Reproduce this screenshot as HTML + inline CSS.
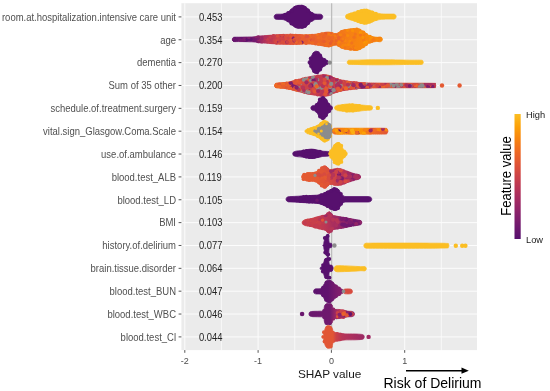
<!DOCTYPE html>
<html><head><meta charset="utf-8"><style>
html,body{margin:0;padding:0;background:#fff;}
body{width:550px;height:391px;overflow:hidden;position:relative;}
svg{position:absolute;left:0;top:0;filter:blur(0.3px);}
text{font-family:"Liberation Sans",sans-serif;}
.yl{font-size:9.5px;fill:#505050;}
.num{font-size:9.4px;fill:#222;}
.xt{font-size:9px;fill:#4D4D4D;}
</style></head><body>
<svg width="550" height="391" viewBox="0 0 550 391">
<defs>
<linearGradient id="leg" x1="0" y1="1" x2="0" y2="0"><stop offset="0.00" stop-color="#57106E"/><stop offset="0.10" stop-color="#6F196E"/><stop offset="0.20" stop-color="#87216B"/><stop offset="0.30" stop-color="#A02A63"/><stop offset="0.40" stop-color="#B73557"/><stop offset="0.50" stop-color="#CC4248"/><stop offset="0.60" stop-color="#E05536"/><stop offset="0.70" stop-color="#EE6A24"/><stop offset="0.80" stop-color="#F78410"/><stop offset="0.90" stop-color="#FCA108"/><stop offset="1.00" stop-color="#FBBE23"/></linearGradient>
<linearGradient id="g1" gradientUnits="userSpaceOnUse" x1="232.0" y1="0" x2="382.0" y2="0"><stop offset="0.000" stop-color="#6A176E"/><stop offset="0.133" stop-color="#6F196E"/><stop offset="0.173" stop-color="#8C2369"/><stop offset="0.227" stop-color="#B73557"/><stop offset="0.293" stop-color="#D04545"/><stop offset="0.387" stop-color="#DD513A"/><stop offset="0.453" stop-color="#E65D2F"/><stop offset="0.553" stop-color="#EA632A"/><stop offset="0.667" stop-color="#EF6E21"/><stop offset="0.733" stop-color="#F37819"/><stop offset="0.800" stop-color="#F78212"/><stop offset="0.867" stop-color="#F8870E"/><stop offset="1.000" stop-color="#F8890C"/></linearGradient>
<clipPath id="c2"><path d="M232.3 39.4 C232.4 39.1 232.6 38.1 233.0 37.8 C233.3 37.4 233.3 37.3 234.5 37.2 C235.7 37.1 237.4 37.2 240.0 37.2 C242.6 37.1 247.5 37.0 250.0 37.0 C252.5 36.9 253.7 36.8 255.0 36.7 C256.3 36.5 256.3 36.2 258.0 36.1 C259.7 35.9 262.7 35.8 265.0 35.7 C267.3 35.5 269.5 35.2 272.0 35.1 C274.5 34.9 277.0 34.7 280.0 34.6 C283.0 34.4 286.7 34.4 290.0 34.4 C293.3 34.4 297.5 34.5 300.0 34.6 C302.5 34.6 303.0 34.8 305.0 34.8 C307.0 34.8 309.8 34.7 312.0 34.6 C314.2 34.4 316.2 34.1 318.0 33.8 C319.8 33.5 321.5 33.0 323.0 32.8 C324.5 32.5 325.7 32.1 327.0 32.1 C328.3 32.0 329.8 32.1 331.0 32.4 C332.2 32.6 333.1 33.1 334.0 33.4 C334.9 33.6 335.7 34.0 336.5 33.8 C337.3 33.6 338.1 32.7 339.0 32.2 C339.9 31.6 340.4 30.9 341.6 30.5 C342.8 30.0 344.4 29.8 346.0 29.6 C347.6 29.3 349.2 29.0 351.0 28.8 C352.8 28.6 355.5 28.3 357.0 28.4 C358.5 28.5 359.0 28.9 360.0 29.4 C361.0 29.8 362.1 30.5 363.0 31.1 C363.9 31.6 364.8 32.2 365.5 32.8 C366.2 33.3 366.8 34.1 367.5 34.6 C368.2 35.1 369.2 35.5 370.0 35.8 C370.8 36.1 371.2 36.1 372.0 36.4 C372.8 36.6 374.1 36.9 375.0 37.1 C375.9 37.2 376.7 37.3 377.5 37.3 C378.3 37.2 379.3 36.9 380.0 37.0 C380.7 37.0 381.3 37.2 381.7 37.6 C382.1 38.0 382.3 39.1 382.4 39.4 L382.4 39.4 C382.3 39.6 382.1 40.7 381.7 41.1 C381.3 41.5 380.7 41.7 380.0 41.8 C379.3 41.8 378.3 41.5 377.5 41.5 C376.7 41.4 375.9 41.5 375.0 41.7 C374.1 41.8 372.8 42.1 372.0 42.4 C371.2 42.6 370.8 42.7 370.0 43.0 C369.2 43.3 368.2 43.7 367.5 44.2 C366.8 44.7 366.2 45.4 365.5 46.0 C364.8 46.5 363.9 47.1 363.0 47.7 C362.1 48.2 361.0 48.9 360.0 49.4 C359.0 49.8 358.5 50.3 357.0 50.4 C355.5 50.5 352.8 50.2 351.0 50.0 C349.2 49.8 347.6 49.4 346.0 49.2 C344.4 48.9 342.8 48.7 341.6 48.3 C340.4 47.8 339.9 47.1 339.0 46.6 C338.1 46.0 337.3 45.2 336.5 45.0 C335.7 44.8 334.9 45.1 334.0 45.4 C333.1 45.6 332.2 46.1 331.0 46.4 C329.8 46.6 328.3 46.7 327.0 46.7 C325.7 46.6 324.5 46.2 323.0 46.0 C321.5 45.7 319.8 45.3 318.0 45.0 C316.2 44.7 314.2 44.3 312.0 44.2 C309.8 44.0 307.0 44.0 305.0 44.0 C303.0 44.0 302.5 44.1 300.0 44.2 C297.5 44.2 293.3 44.4 290.0 44.4 C286.7 44.4 283.0 44.3 280.0 44.2 C277.0 44.0 274.5 43.8 272.0 43.7 C269.5 43.5 267.3 43.2 265.0 43.1 C262.7 42.9 259.7 42.8 258.0 42.7 C256.3 42.5 256.3 42.2 255.0 42.1 C253.7 41.9 252.5 41.8 250.0 41.8 C247.5 41.7 242.6 41.6 240.0 41.6 C237.4 41.5 235.7 41.7 234.5 41.6 C233.3 41.5 233.3 41.3 233.0 40.9 C232.6 40.6 232.4 39.6 232.3 39.4 Z"/></clipPath>
<linearGradient id="g3" gradientUnits="userSpaceOnUse" x1="274.0" y1="0" x2="436.0" y2="0"><stop offset="0.000" stop-color="#EE6A24"/><stop offset="0.111" stop-color="#E05536"/><stop offset="0.191" stop-color="#CC4248"/><stop offset="0.284" stop-color="#C33B4F"/><stop offset="0.407" stop-color="#CC4248"/><stop offset="0.654" stop-color="#D74B3F"/><stop offset="1.000" stop-color="#D74B3F"/></linearGradient>
<clipPath id="c4"><path d="M274.5 85.5 C274.6 85.2 274.8 84.1 275.2 83.7 C275.7 83.3 275.9 83.1 277.0 83.0 C278.1 82.8 280.0 82.8 282.0 82.7 C284.0 82.5 286.8 82.4 289.0 82.0 C291.2 81.5 293.7 80.5 295.5 80.0 C297.3 79.5 298.3 79.4 300.0 79.0 C301.7 78.6 303.4 78.0 305.6 77.5 C307.8 77.0 310.4 76.5 313.0 76.1 C315.6 75.7 319.0 75.2 321.0 75.0 C323.0 74.7 323.5 74.6 325.0 74.7 C326.5 74.8 328.5 75.1 329.8 75.6 C331.1 76.0 331.4 76.8 332.6 77.3 C333.8 77.8 335.5 78.2 337.0 78.7 C338.5 79.1 339.2 79.5 341.5 80.0 C343.8 80.4 346.9 81.0 350.5 81.5 C354.1 81.9 358.1 82.4 363.0 82.7 C367.9 82.9 372.2 83.0 380.0 83.1 C387.8 83.2 401.1 83.1 410.0 83.2 C418.9 83.2 429.4 83.2 433.6 83.3 C437.8 83.4 434.8 83.5 435.1 83.9 C435.5 84.3 435.7 85.2 435.8 85.5 L435.8 85.5 C435.7 85.7 435.5 86.7 435.1 87.1 C434.8 87.4 437.8 87.6 433.6 87.7 C429.4 87.8 418.9 87.7 410.0 87.8 C401.1 87.8 387.8 87.8 380.0 87.9 C372.2 88.0 367.9 88.0 363.0 88.3 C358.1 88.5 354.1 89.0 350.5 89.5 C346.9 89.9 343.8 90.5 341.5 91.0 C339.2 91.4 338.5 91.8 337.0 92.3 C335.5 92.7 333.8 93.2 332.6 93.7 C331.4 94.2 331.1 94.9 329.8 95.4 C328.5 95.8 326.5 96.2 325.0 96.3 C323.5 96.4 323.0 96.2 321.0 96.0 C319.0 95.7 315.6 95.3 313.0 94.9 C310.4 94.5 307.8 94.0 305.6 93.5 C303.4 93.0 301.7 92.4 300.0 92.0 C298.3 91.6 297.3 91.5 295.5 91.0 C293.7 90.5 291.2 89.4 289.0 89.0 C286.8 88.5 284.0 88.4 282.0 88.3 C280.0 88.1 278.1 88.1 277.0 88.0 C275.9 87.8 275.7 87.7 275.2 87.3 C274.8 86.9 274.6 85.8 274.5 85.5 Z"/></clipPath>
<linearGradient id="g5" gradientUnits="userSpaceOnUse" x1="333.0" y1="0" x2="388.0" y2="0"><stop offset="0.000" stop-color="#F06F20"/><stop offset="0.218" stop-color="#F8890C"/><stop offset="0.491" stop-color="#FA9207"/><stop offset="0.709" stop-color="#EE6A24"/><stop offset="1.000" stop-color="#E05536"/></linearGradient>
<clipPath id="c6"><path d="M332.5 131.2 C332.6 130.8 332.9 129.5 333.4 129.0 C333.9 128.5 332.7 128.3 335.5 128.2 C338.3 128.0 344.2 128.2 350.0 128.2 C355.8 128.2 364.1 128.2 370.0 128.2 C375.9 128.2 382.2 128.1 385.1 128.3 C388.0 128.4 386.6 128.6 387.1 129.1 C387.6 129.6 387.9 130.8 388.0 131.2 L388.0 131.2 C387.9 131.5 387.6 132.8 387.1 133.3 C386.6 133.8 388.0 133.9 385.1 134.1 C382.2 134.2 375.9 134.2 370.0 134.2 C364.1 134.2 355.8 134.2 350.0 134.2 C344.2 134.2 338.3 134.3 335.5 134.2 C332.7 134.0 333.9 133.8 333.4 133.3 C332.9 132.8 332.6 131.5 332.5 131.2 Z"/></clipPath>
<linearGradient id="g7" gradientUnits="userSpaceOnUse" x1="301.0" y1="0" x2="360.0" y2="0"><stop offset="0.000" stop-color="#E45A31"/><stop offset="0.288" stop-color="#E35933"/><stop offset="0.424" stop-color="#DD513A"/><stop offset="0.559" stop-color="#D04545"/><stop offset="0.695" stop-color="#BC3754"/><stop offset="0.831" stop-color="#A52C60"/><stop offset="1.000" stop-color="#932667"/></linearGradient>
<clipPath id="c8"><path d="M301.5 176.9 C301.6 176.6 301.8 175.5 302.3 175.0 C302.7 174.6 303.1 174.7 304.1 174.3 C305.1 173.9 306.3 172.9 308.0 172.6 C309.7 172.3 313.0 172.6 314.5 172.4 C316.0 172.1 316.2 171.6 317.0 171.1 C317.8 170.6 318.5 170.1 319.3 169.4 C320.1 168.7 321.1 167.5 322.0 166.9 C322.9 166.3 323.8 165.7 324.6 165.7 C325.4 165.7 326.2 166.3 327.0 166.9 C327.8 167.5 328.5 169.0 329.3 169.4 C330.1 169.8 330.7 169.6 332.0 169.4 C333.3 169.2 335.5 168.5 337.0 168.4 C338.5 168.3 339.6 168.6 341.0 168.9 C342.4 169.2 344.0 169.9 345.3 170.4 C346.6 170.9 347.6 171.4 349.0 171.9 C350.4 172.4 352.2 173.0 353.5 173.4 C354.8 173.8 356.2 173.9 357.0 174.1 C357.8 174.3 357.7 174.3 358.2 174.5 C358.7 174.7 359.5 174.8 359.9 175.2 C360.3 175.6 360.5 176.6 360.6 176.9 L360.6 176.9 C360.5 177.2 360.3 178.2 359.9 178.6 C359.5 179.0 358.7 179.1 358.2 179.3 C357.7 179.5 357.8 179.5 357.0 179.7 C356.2 179.9 354.8 180.0 353.5 180.4 C352.2 180.8 350.4 181.4 349.0 181.9 C347.6 182.4 346.6 182.9 345.3 183.4 C344.0 183.9 342.4 184.6 341.0 184.9 C339.6 185.2 338.5 185.5 337.0 185.4 C335.5 185.3 333.3 184.6 332.0 184.4 C330.7 184.2 330.1 184.0 329.3 184.4 C328.5 184.8 327.8 186.3 327.0 186.9 C326.2 187.5 325.4 188.1 324.6 188.1 C323.8 188.1 322.9 187.5 322.0 186.9 C321.1 186.3 320.1 185.1 319.3 184.4 C318.5 183.7 317.8 183.2 317.0 182.7 C316.2 182.2 316.0 181.6 314.5 181.4 C313.0 181.1 309.7 181.5 308.0 181.2 C306.3 180.9 305.1 179.9 304.1 179.5 C303.1 179.1 302.7 179.2 302.3 178.8 C301.8 178.3 301.6 177.2 301.5 176.9 Z"/></clipPath>
<linearGradient id="g9" gradientUnits="userSpaceOnUse" x1="302.0" y1="0" x2="362.0" y2="0"><stop offset="0.000" stop-color="#CC4248"/><stop offset="0.217" stop-color="#C83F4B"/><stop offset="0.383" stop-color="#BC3754"/><stop offset="0.550" stop-color="#A52C60"/><stop offset="0.717" stop-color="#87216B"/><stop offset="1.000" stop-color="#741A6E"/></linearGradient>
<clipPath id="c10"><path d="M302.1 222.6 C302.2 222.3 302.4 221.2 302.9 220.8 C303.3 220.4 304.2 220.3 304.6 220.1 C305.0 219.9 304.1 219.8 305.0 219.6 C305.9 219.4 308.3 219.3 309.8 219.0 C311.3 218.7 312.6 218.2 314.0 217.8 C315.4 217.4 316.7 217.0 318.0 216.6 C319.3 216.2 320.8 215.9 322.0 215.6 C323.2 215.3 324.2 215.4 325.0 215.0 C325.8 214.6 326.3 214.0 327.0 213.4 C327.7 212.8 328.6 211.6 329.3 211.6 C330.1 211.6 330.9 213.0 331.5 213.6 C332.1 214.2 332.3 215.0 333.0 215.4 C333.7 215.8 334.6 215.8 335.8 216.0 C337.0 216.2 338.4 216.5 340.0 216.8 C341.6 217.1 343.6 217.3 345.3 217.6 C347.0 217.9 348.4 218.3 350.0 218.6 C351.6 218.9 353.4 219.2 354.7 219.4 C356.0 219.6 357.2 219.8 358.0 219.9 C358.8 220.0 358.8 220.0 359.3 220.1 C359.8 220.3 360.6 220.4 361.1 220.8 C361.5 221.2 361.7 222.3 361.8 222.6 L361.8 222.6 C361.7 222.9 361.5 224.0 361.1 224.4 C360.6 224.8 359.8 225.0 359.3 225.1 C358.8 225.3 358.8 225.2 358.0 225.3 C357.2 225.4 356.0 225.6 354.7 225.8 C353.4 226.0 351.6 226.3 350.0 226.6 C348.4 226.9 347.0 227.3 345.3 227.6 C343.6 227.9 341.6 228.1 340.0 228.4 C338.4 228.7 337.0 229.0 335.8 229.2 C334.6 229.4 333.7 229.4 333.0 229.8 C332.3 230.2 332.1 231.0 331.5 231.6 C330.9 232.2 330.1 233.6 329.3 233.6 C328.6 233.6 327.7 232.4 327.0 231.8 C326.3 231.2 325.8 230.6 325.0 230.2 C324.2 229.8 323.2 229.9 322.0 229.6 C320.8 229.3 319.3 229.0 318.0 228.6 C316.7 228.2 315.4 227.8 314.0 227.4 C312.6 227.0 311.3 226.5 309.8 226.2 C308.3 225.9 305.9 225.8 305.0 225.6 C304.1 225.4 305.0 225.3 304.6 225.1 C304.2 224.9 303.3 224.8 302.9 224.4 C302.4 224.0 302.2 222.9 302.1 222.6 Z"/></clipPath>
<linearGradient id="g11" gradientUnits="userSpaceOnUse" x1="313.0" y1="0" x2="343.0" y2="0"><stop offset="0.000" stop-color="#5C126E"/><stop offset="0.500" stop-color="#61136E"/><stop offset="0.767" stop-color="#781C6D"/><stop offset="1.000" stop-color="#87216B"/></linearGradient>
<linearGradient id="g12" gradientUnits="userSpaceOnUse" x1="309.0" y1="0" x2="354.0" y2="0"><stop offset="0.000" stop-color="#6A176E"/><stop offset="0.467" stop-color="#6F196E"/><stop offset="0.600" stop-color="#A02A63"/><stop offset="0.733" stop-color="#C33B4F"/><stop offset="0.867" stop-color="#AB2F5E"/><stop offset="1.000" stop-color="#7C1D6D"/></linearGradient>
<clipPath id="c13"><path d="M308.9 314.0 C309.0 313.7 309.2 312.7 309.6 312.2 C310.1 311.8 310.5 311.7 311.4 311.5 C312.3 311.4 313.6 311.4 315.0 311.3 C316.4 311.3 318.6 311.3 320.0 311.2 C321.4 311.1 322.8 311.6 323.5 310.7 C324.2 309.9 324.1 307.2 324.5 306.0 C324.9 304.9 325.3 304.5 326.0 304.0 C326.7 303.6 327.7 303.4 328.5 303.4 C329.3 303.4 330.3 303.6 331.0 304.0 C331.7 304.5 332.1 305.2 332.5 306.0 C332.9 306.9 332.6 308.7 333.5 309.2 C334.4 309.8 336.4 309.3 338.0 309.4 C339.6 309.6 341.5 309.7 343.0 309.9 C344.5 310.2 345.7 310.8 347.0 311.0 C348.3 311.3 350.2 311.3 351.0 311.3 C351.8 311.4 351.5 311.4 352.0 311.5 C352.5 311.7 353.3 311.8 353.8 312.2 C354.2 312.7 354.4 313.7 354.5 314.0 L354.5 314.0 C354.4 314.3 354.2 315.4 353.8 315.8 C353.3 316.3 352.5 316.4 352.0 316.5 C351.5 316.7 351.8 316.7 351.0 316.7 C350.2 316.8 348.3 316.8 347.0 317.0 C345.7 317.3 344.5 317.9 343.0 318.1 C341.5 318.4 339.6 318.5 338.0 318.6 C336.4 318.8 334.4 318.3 333.5 318.8 C332.6 319.4 332.9 321.2 332.5 322.0 C332.1 322.9 331.7 323.6 331.0 324.0 C330.3 324.5 329.3 324.6 328.5 324.6 C327.7 324.6 326.7 324.5 326.0 324.0 C325.3 323.6 324.9 323.2 324.5 322.0 C324.1 320.9 324.2 318.2 323.5 317.3 C322.8 316.5 321.4 316.9 320.0 316.8 C318.6 316.7 316.4 316.8 315.0 316.7 C313.6 316.7 312.3 316.7 311.4 316.5 C310.5 316.4 310.1 316.3 309.6 315.8 C309.2 315.4 309.0 314.3 308.9 314.0 Z"/></clipPath>
<linearGradient id="g14" gradientUnits="userSpaceOnUse" x1="321.0" y1="0" x2="364.0" y2="0"><stop offset="0.000" stop-color="#E15635"/><stop offset="0.279" stop-color="#E15635"/><stop offset="0.349" stop-color="#CC4248"/><stop offset="0.488" stop-color="#B73557"/><stop offset="0.721" stop-color="#AB2F5E"/><stop offset="1.000" stop-color="#9B2964"/></linearGradient>
</defs>
<rect x="181.4" y="3.2" width="295.6" height="346.9" fill="#EBEBEB"/>
<line x1="221.45" x2="221.45" y1="3.2" y2="350.1" stroke="#F8F8F8" stroke-width="1.0"/>
<line x1="294.75" x2="294.75" y1="3.2" y2="350.1" stroke="#F8F8F8" stroke-width="1.0"/>
<line x1="368.05" x2="368.05" y1="3.2" y2="350.1" stroke="#F8F8F8" stroke-width="1.0"/>
<line x1="441.35" x2="441.35" y1="3.2" y2="350.1" stroke="#F8F8F8" stroke-width="1.0"/>
<line x1="184.80" x2="184.80" y1="3.2" y2="350.1" stroke="#FCFCFC" stroke-width="1.0"/>
<line x1="258.10" x2="258.10" y1="3.2" y2="350.1" stroke="#FCFCFC" stroke-width="1.0"/>
<line x1="331.40" x2="331.40" y1="3.2" y2="350.1" stroke="#FCFCFC" stroke-width="1.0"/>
<line x1="404.70" x2="404.70" y1="3.2" y2="350.1" stroke="#FCFCFC" stroke-width="1.0"/>
<line x1="181.4" x2="477.0" y1="16.90" y2="16.90" stroke="#FCFCFC" stroke-width="1.0"/>
<line x1="181.4" x2="477.0" y1="39.76" y2="39.76" stroke="#FCFCFC" stroke-width="1.0"/>
<line x1="181.4" x2="477.0" y1="62.61" y2="62.61" stroke="#FCFCFC" stroke-width="1.0"/>
<line x1="181.4" x2="477.0" y1="85.47" y2="85.47" stroke="#FCFCFC" stroke-width="1.0"/>
<line x1="181.4" x2="477.0" y1="108.33" y2="108.33" stroke="#FCFCFC" stroke-width="1.0"/>
<line x1="181.4" x2="477.0" y1="131.19" y2="131.19" stroke="#FCFCFC" stroke-width="1.0"/>
<line x1="181.4" x2="477.0" y1="154.04" y2="154.04" stroke="#FCFCFC" stroke-width="1.0"/>
<line x1="181.4" x2="477.0" y1="176.90" y2="176.90" stroke="#FCFCFC" stroke-width="1.0"/>
<line x1="181.4" x2="477.0" y1="199.76" y2="199.76" stroke="#FCFCFC" stroke-width="1.0"/>
<line x1="181.4" x2="477.0" y1="222.61" y2="222.61" stroke="#FCFCFC" stroke-width="1.0"/>
<line x1="181.4" x2="477.0" y1="245.47" y2="245.47" stroke="#FCFCFC" stroke-width="1.0"/>
<line x1="181.4" x2="477.0" y1="268.33" y2="268.33" stroke="#FCFCFC" stroke-width="1.0"/>
<line x1="181.4" x2="477.0" y1="291.18" y2="291.18" stroke="#FCFCFC" stroke-width="1.0"/>
<line x1="181.4" x2="477.0" y1="314.04" y2="314.04" stroke="#FCFCFC" stroke-width="1.0"/>
<line x1="181.4" x2="477.0" y1="336.90" y2="336.90" stroke="#FCFCFC" stroke-width="1.0"/>
<line x1="331.60" x2="331.60" y1="3.2" y2="350.1" stroke="#BDBDBD" stroke-width="1.3"/>
<path d="M274.1 16.8 C274.2 16.5 274.4 15.4 274.9 14.9 C275.3 14.5 276.3 14.3 276.7 14.2 C277.1 14.1 276.9 14.2 277.1 14.2 C277.3 14.2 277.8 14.2 278.1 14.2 C278.4 14.2 278.8 14.2 279.1 14.2 C279.4 14.2 279.8 14.2 280.1 14.2 C280.4 14.2 280.8 14.2 281.1 14.2 C281.4 14.1 281.8 14.1 282.1 14.1 C282.4 14.1 282.8 14.0 283.1 14.0 C283.4 13.9 283.8 13.9 284.1 13.8 C284.4 13.7 284.8 13.7 285.1 13.5 C285.4 13.4 285.8 13.3 286.1 13.1 C286.4 13.0 286.8 12.8 287.1 12.6 C287.4 12.4 287.8 12.2 288.1 11.9 C288.4 11.7 288.8 11.4 289.1 11.1 C289.4 10.8 289.8 10.5 290.1 10.2 C290.4 9.9 290.8 9.6 291.1 9.3 C291.4 9.0 291.8 8.7 292.1 8.4 C292.4 8.1 292.8 7.8 293.1 7.5 C293.4 7.3 293.8 7.0 294.1 6.8 C294.4 6.6 294.8 6.4 295.1 6.2 C295.4 6.1 295.8 5.9 296.1 5.8 C296.4 5.7 296.8 5.6 297.1 5.5 C297.4 5.5 297.8 5.4 298.1 5.4 C298.4 5.3 298.8 5.3 299.1 5.3 C299.4 5.3 299.8 5.3 300.1 5.3 C300.4 5.3 300.8 5.3 301.1 5.3 C301.4 5.3 301.8 5.3 302.1 5.3 C302.4 5.4 302.8 5.4 303.1 5.5 C303.4 5.6 303.8 5.6 304.1 5.8 C304.4 5.9 304.8 6.1 305.1 6.3 C305.4 6.5 305.8 6.7 306.1 6.9 C306.4 7.2 306.8 7.5 307.1 7.8 C307.4 8.2 307.8 8.5 308.1 8.9 C308.4 9.2 308.8 9.6 309.1 10.0 C309.4 10.3 309.8 10.7 310.1 11.0 C310.4 11.4 310.8 11.7 311.1 12.0 C311.4 12.3 311.8 12.5 312.1 12.8 C312.4 13.0 312.8 13.2 313.1 13.3 C313.4 13.5 313.8 13.6 314.1 13.7 C314.4 13.8 314.8 13.9 315.1 14.0 C315.4 14.0 315.8 14.1 316.1 14.1 C316.4 14.1 316.8 14.1 317.1 14.2 C317.4 14.2 317.8 14.2 318.1 14.2 C318.4 14.2 318.8 14.2 319.1 14.2 C319.5 14.2 319.7 14.1 320.2 14.2 C320.7 14.3 321.6 14.5 322.0 14.9 C322.5 15.4 322.7 16.5 322.8 16.8 L322.8 16.8 C322.7 17.1 322.5 18.2 322.0 18.7 C321.6 19.1 320.7 19.3 320.2 19.4 C319.7 19.5 319.5 19.4 319.1 19.4 C318.8 19.4 318.4 19.4 318.1 19.4 C317.8 19.4 317.4 19.4 317.1 19.4 C316.8 19.5 316.4 19.5 316.1 19.5 C315.8 19.5 315.4 19.6 315.1 19.6 C314.8 19.7 314.4 19.8 314.1 19.9 C313.8 20.0 313.4 20.1 313.1 20.3 C312.8 20.4 312.4 20.6 312.1 20.8 C311.8 21.1 311.4 21.3 311.1 21.6 C310.8 21.9 310.4 22.2 310.1 22.6 C309.8 22.9 309.4 23.3 309.1 23.6 C308.8 24.0 308.4 24.4 308.1 24.7 C307.8 25.1 307.4 25.4 307.1 25.8 C306.8 26.1 306.4 26.4 306.1 26.7 C305.8 26.9 305.4 27.1 305.1 27.3 C304.8 27.5 304.4 27.7 304.1 27.8 C303.8 28.0 303.4 28.0 303.1 28.1 C302.8 28.2 302.4 28.2 302.1 28.3 C301.8 28.3 301.4 28.3 301.1 28.3 C300.8 28.3 300.4 28.3 300.1 28.3 C299.8 28.3 299.4 28.3 299.1 28.3 C298.8 28.3 298.4 28.3 298.1 28.2 C297.8 28.2 297.4 28.1 297.1 28.1 C296.8 28.0 296.4 27.9 296.1 27.8 C295.8 27.7 295.4 27.5 295.1 27.4 C294.8 27.2 294.4 27.0 294.1 26.8 C293.8 26.6 293.4 26.3 293.1 26.1 C292.8 25.8 292.4 25.5 292.1 25.2 C291.8 24.9 291.4 24.6 291.1 24.3 C290.8 24.0 290.4 23.7 290.1 23.4 C289.8 23.1 289.4 22.8 289.1 22.5 C288.8 22.2 288.4 21.9 288.1 21.7 C287.8 21.4 287.4 21.2 287.1 21.0 C286.8 20.8 286.4 20.6 286.1 20.5 C285.8 20.3 285.4 20.2 285.1 20.1 C284.8 19.9 284.4 19.9 284.1 19.8 C283.8 19.7 283.4 19.7 283.1 19.6 C282.8 19.6 282.4 19.5 282.1 19.5 C281.8 19.5 281.4 19.5 281.1 19.4 C280.8 19.4 280.4 19.4 280.1 19.4 C279.8 19.4 279.4 19.4 279.1 19.4 C278.8 19.4 278.4 19.4 278.1 19.4 C277.8 19.4 277.3 19.4 277.1 19.4 C276.9 19.4 277.1 19.5 276.7 19.4 C276.3 19.3 275.3 19.1 274.9 18.7 C274.4 18.2 274.2 17.1 274.1 16.8 Z" fill="#57106E" stroke="#57106E" stroke-width="0.8" stroke-linejoin="round"/>
<g fill="#57106E"><circle cx="285.1" cy="14.7" r="1.9"/><circle cx="285.4" cy="18.5" r="1.9"/><circle cx="288.2" cy="12.9" r="1.9"/><circle cx="288.2" cy="20.4" r="1.9"/><circle cx="292.0" cy="10.5" r="1.9"/><circle cx="291.4" cy="23.5" r="1.9"/><circle cx="295.3" cy="7.7" r="1.9"/><circle cx="295.7" cy="25.6" r="1.9"/><circle cx="298.5" cy="7.0" r="1.9"/><circle cx="298.3" cy="26.7" r="1.9"/><circle cx="301.8" cy="6.7" r="1.9"/><circle cx="302.2" cy="26.8" r="1.9"/><circle cx="304.8" cy="8.1" r="1.9"/><circle cx="304.9" cy="26.0" r="1.9"/><circle cx="308.1" cy="10.4" r="1.9"/><circle cx="308.2" cy="23.0" r="1.9"/><circle cx="311.8" cy="14.0" r="1.9"/><circle cx="311.7" cy="19.8" r="1.9"/></g>
<path d="M345.5 16.6 C345.6 16.3 345.8 15.2 346.2 14.8 C346.7 14.4 347.6 14.3 348.0 14.1 C348.4 13.9 348.2 13.8 348.5 13.7 C348.8 13.6 349.2 13.6 349.5 13.5 C349.8 13.4 350.2 13.4 350.5 13.3 C350.8 13.2 351.2 13.2 351.5 13.1 C351.8 13.0 352.2 12.9 352.5 12.8 C352.8 12.7 353.2 12.6 353.5 12.5 C353.8 12.4 354.2 12.3 354.5 12.2 C354.8 12.0 355.2 11.9 355.5 11.8 C355.8 11.7 356.2 11.5 356.5 11.4 C356.8 11.3 357.2 11.1 357.5 11.0 C357.8 10.9 358.2 10.8 358.5 10.6 C358.8 10.5 359.2 10.4 359.5 10.3 C359.8 10.2 360.2 10.1 360.5 10.0 C360.8 9.9 361.2 9.8 361.5 9.7 C361.8 9.6 362.2 9.5 362.5 9.5 C362.8 9.4 363.2 9.4 363.5 9.3 C363.8 9.3 364.2 9.2 364.5 9.2 C364.8 9.2 365.2 9.2 365.5 9.2 C365.8 9.2 366.2 9.2 366.5 9.2 C366.8 9.3 367.2 9.3 367.5 9.4 C367.8 9.5 368.2 9.6 368.5 9.7 C368.8 9.8 369.2 9.9 369.5 10.0 C369.8 10.1 370.2 10.3 370.5 10.4 C370.8 10.6 371.2 10.7 371.5 10.9 C371.8 11.0 372.2 11.2 372.5 11.3 C372.8 11.5 373.2 11.6 373.5 11.8 C373.8 11.9 374.2 12.1 374.5 12.2 C374.8 12.4 375.2 12.5 375.5 12.6 C375.8 12.7 376.2 12.8 376.5 12.9 C376.8 13.0 377.2 13.1 377.5 13.2 C377.8 13.3 378.2 13.4 378.5 13.4 C378.8 13.5 379.2 13.6 379.5 13.6 C379.8 13.7 380.2 13.7 380.5 13.8 C380.8 13.8 381.2 13.8 381.5 13.9 C381.8 13.9 382.2 13.9 382.5 13.9 C382.8 14.0 383.2 14.0 383.5 14.0 C383.8 14.0 384.2 14.0 384.5 14.0 C384.8 14.0 385.2 14.1 385.5 14.1 C385.8 14.1 386.2 14.1 386.5 14.1 C386.8 14.1 387.2 14.1 387.5 14.1 C387.8 14.1 388.2 14.1 388.5 14.1 C388.8 14.1 389.2 14.1 389.5 14.1 C389.8 14.1 390.2 14.1 390.5 14.1 C390.8 14.1 391.2 14.1 391.5 14.1 C391.8 14.1 392.1 14.1 392.5 14.1 C392.9 14.1 393.2 14.0 393.7 14.1 C394.2 14.2 395.0 14.4 395.4 14.8 C395.9 15.2 396.1 16.3 396.2 16.6 L396.2 16.6 C396.1 16.9 395.9 18.0 395.4 18.4 C395.0 18.8 394.2 19.0 393.7 19.1 C393.2 19.2 392.9 19.1 392.5 19.1 C392.1 19.1 391.8 19.1 391.5 19.1 C391.2 19.1 390.8 19.1 390.5 19.1 C390.2 19.1 389.8 19.1 389.5 19.1 C389.2 19.1 388.8 19.1 388.5 19.1 C388.2 19.1 387.8 19.1 387.5 19.1 C387.2 19.1 386.8 19.1 386.5 19.1 C386.2 19.1 385.8 19.1 385.5 19.1 C385.2 19.1 384.8 19.2 384.5 19.2 C384.2 19.2 383.8 19.2 383.5 19.2 C383.2 19.2 382.8 19.2 382.5 19.3 C382.2 19.3 381.8 19.3 381.5 19.3 C381.2 19.4 380.8 19.4 380.5 19.4 C380.2 19.5 379.8 19.5 379.5 19.6 C379.2 19.6 378.8 19.7 378.5 19.8 C378.2 19.8 377.8 19.9 377.5 20.0 C377.2 20.1 376.8 20.2 376.5 20.3 C376.2 20.4 375.8 20.5 375.5 20.6 C375.2 20.7 374.8 20.8 374.5 21.0 C374.2 21.1 373.8 21.3 373.5 21.4 C373.2 21.6 372.8 21.7 372.5 21.9 C372.2 22.0 371.8 22.2 371.5 22.3 C371.2 22.5 370.8 22.6 370.5 22.8 C370.2 22.9 369.8 23.1 369.5 23.2 C369.2 23.3 368.8 23.4 368.5 23.5 C368.2 23.6 367.8 23.7 367.5 23.8 C367.2 23.9 366.8 23.9 366.5 24.0 C366.2 24.0 365.8 24.0 365.5 24.0 C365.2 24.0 364.8 24.0 364.5 24.0 C364.2 24.0 363.8 23.9 363.5 23.9 C363.2 23.8 362.8 23.8 362.5 23.7 C362.2 23.7 361.8 23.6 361.5 23.5 C361.2 23.4 360.8 23.3 360.5 23.2 C360.2 23.1 359.8 23.0 359.5 22.9 C359.2 22.8 358.8 22.7 358.5 22.6 C358.2 22.4 357.8 22.3 357.5 22.2 C357.2 22.1 356.8 21.9 356.5 21.8 C356.2 21.7 355.8 21.5 355.5 21.4 C355.2 21.3 354.8 21.2 354.5 21.0 C354.2 20.9 353.8 20.8 353.5 20.7 C353.2 20.6 352.8 20.5 352.5 20.4 C352.2 20.3 351.8 20.2 351.5 20.1 C351.2 20.0 350.8 20.0 350.5 19.9 C350.2 19.8 349.8 19.8 349.5 19.7 C349.2 19.6 348.8 19.6 348.5 19.5 C348.2 19.4 348.4 19.3 348.0 19.1 C347.6 18.9 346.7 18.8 346.2 18.4 C345.8 18.0 345.6 16.9 345.5 16.6 Z" fill="#FBBE23" stroke="#FBBE23" stroke-width="0.8" stroke-linejoin="round"/>
<g fill="#FBBE23"><circle cx="351.2" cy="14.5" r="1.9"/><circle cx="351.8" cy="18.5" r="1.9"/><circle cx="354.2" cy="13.4" r="1.9"/><circle cx="354.9" cy="19.8" r="1.9"/><circle cx="358.0" cy="12.0" r="1.9"/><circle cx="358.2" cy="21.1" r="1.9"/><circle cx="361.5" cy="10.8" r="1.9"/><circle cx="361.2" cy="22.2" r="1.9"/><circle cx="364.1" cy="10.6" r="1.9"/><circle cx="364.4" cy="22.8" r="1.9"/><circle cx="366.6" cy="10.6" r="1.9"/><circle cx="366.3" cy="22.5" r="1.9"/><circle cx="369.1" cy="11.8" r="1.9"/><circle cx="369.8" cy="21.5" r="1.9"/><circle cx="372.3" cy="12.4" r="1.9"/><circle cx="371.9" cy="20.5" r="1.9"/><circle cx="375.9" cy="13.7" r="1.9"/><circle cx="375.9" cy="19.0" r="1.9"/></g>
<path d="M232.3 39.4 C232.4 39.1 232.6 38.1 233.0 37.8 C233.3 37.4 233.3 37.3 234.5 37.2 C235.7 37.1 237.4 37.2 240.0 37.2 C242.6 37.1 247.5 37.0 250.0 37.0 C252.5 36.9 253.7 36.8 255.0 36.7 C256.3 36.5 256.3 36.2 258.0 36.1 C259.7 35.9 262.7 35.8 265.0 35.7 C267.3 35.5 269.5 35.2 272.0 35.1 C274.5 34.9 277.0 34.7 280.0 34.6 C283.0 34.4 286.7 34.4 290.0 34.4 C293.3 34.4 297.5 34.5 300.0 34.6 C302.5 34.6 303.0 34.8 305.0 34.8 C307.0 34.8 309.8 34.7 312.0 34.6 C314.2 34.4 316.2 34.1 318.0 33.8 C319.8 33.5 321.5 33.0 323.0 32.8 C324.5 32.5 325.7 32.1 327.0 32.1 C328.3 32.0 329.8 32.1 331.0 32.4 C332.2 32.6 333.1 33.1 334.0 33.4 C334.9 33.6 335.7 34.0 336.5 33.8 C337.3 33.6 338.1 32.7 339.0 32.2 C339.9 31.6 340.4 30.9 341.6 30.5 C342.8 30.0 344.4 29.8 346.0 29.6 C347.6 29.3 349.2 29.0 351.0 28.8 C352.8 28.6 355.5 28.3 357.0 28.4 C358.5 28.5 359.0 28.9 360.0 29.4 C361.0 29.8 362.1 30.5 363.0 31.1 C363.9 31.6 364.8 32.2 365.5 32.8 C366.2 33.3 366.8 34.1 367.5 34.6 C368.2 35.1 369.2 35.5 370.0 35.8 C370.8 36.1 371.2 36.1 372.0 36.4 C372.8 36.6 374.1 36.9 375.0 37.1 C375.9 37.2 376.7 37.3 377.5 37.3 C378.3 37.2 379.3 36.9 380.0 37.0 C380.7 37.0 381.3 37.2 381.7 37.6 C382.1 38.0 382.3 39.1 382.4 39.4 L382.4 39.4 C382.3 39.6 382.1 40.7 381.7 41.1 C381.3 41.5 380.7 41.7 380.0 41.8 C379.3 41.8 378.3 41.5 377.5 41.5 C376.7 41.4 375.9 41.5 375.0 41.7 C374.1 41.8 372.8 42.1 372.0 42.4 C371.2 42.6 370.8 42.7 370.0 43.0 C369.2 43.3 368.2 43.7 367.5 44.2 C366.8 44.7 366.2 45.4 365.5 46.0 C364.8 46.5 363.9 47.1 363.0 47.7 C362.1 48.2 361.0 48.9 360.0 49.4 C359.0 49.8 358.5 50.3 357.0 50.4 C355.5 50.5 352.8 50.2 351.0 50.0 C349.2 49.8 347.6 49.4 346.0 49.2 C344.4 48.9 342.8 48.7 341.6 48.3 C340.4 47.8 339.9 47.1 339.0 46.6 C338.1 46.0 337.3 45.2 336.5 45.0 C335.7 44.8 334.9 45.1 334.0 45.4 C333.1 45.6 332.2 46.1 331.0 46.4 C329.8 46.6 328.3 46.7 327.0 46.7 C325.7 46.6 324.5 46.2 323.0 46.0 C321.5 45.7 319.8 45.3 318.0 45.0 C316.2 44.7 314.2 44.3 312.0 44.2 C309.8 44.0 307.0 44.0 305.0 44.0 C303.0 44.0 302.5 44.1 300.0 44.2 C297.5 44.2 293.3 44.4 290.0 44.4 C286.7 44.4 283.0 44.3 280.0 44.2 C277.0 44.0 274.5 43.8 272.0 43.7 C269.5 43.5 267.3 43.2 265.0 43.1 C262.7 42.9 259.7 42.8 258.0 42.7 C256.3 42.5 256.3 42.2 255.0 42.1 C253.7 41.9 252.5 41.8 250.0 41.8 C247.5 41.7 242.6 41.6 240.0 41.6 C237.4 41.5 235.7 41.7 234.5 41.6 C233.3 41.5 233.3 41.3 233.0 40.9 C232.6 40.6 232.4 39.6 232.3 39.4 Z" fill="url(#g1)" stroke="url(#g1)" stroke-width="0.8" stroke-linejoin="round"/>
<g fill="url(#g1)"><circle cx="258.3" cy="37.1" r="1.9"/><circle cx="258.4" cy="41.3" r="1.9"/><circle cx="261.6" cy="37.6" r="1.9"/><circle cx="261.8" cy="41.7" r="1.9"/><circle cx="265.2" cy="37.1" r="1.9"/><circle cx="264.8" cy="41.3" r="1.9"/><circle cx="267.7" cy="37.1" r="1.9"/><circle cx="267.8" cy="41.7" r="1.9"/><circle cx="270.6" cy="36.9" r="1.9"/><circle cx="270.7" cy="41.9" r="1.9"/><circle cx="273.5" cy="36.0" r="1.9"/><circle cx="274.1" cy="42.1" r="1.9"/><circle cx="276.7" cy="36.3" r="1.9"/><circle cx="276.5" cy="42.8" r="1.9"/><circle cx="280.4" cy="36.0" r="1.9"/><circle cx="280.1" cy="42.4" r="1.9"/><circle cx="283.2" cy="35.6" r="1.9"/><circle cx="283.1" cy="42.4" r="1.9"/><circle cx="287.0" cy="36.1" r="1.9"/><circle cx="287.0" cy="42.5" r="1.9"/><circle cx="290.6" cy="35.5" r="1.9"/><circle cx="290.3" cy="42.8" r="1.9"/><circle cx="292.7" cy="35.6" r="1.9"/><circle cx="293.1" cy="43.1" r="1.9"/><circle cx="295.7" cy="35.6" r="1.9"/><circle cx="296.5" cy="43.1" r="1.9"/><circle cx="299.7" cy="35.8" r="1.9"/><circle cx="299.1" cy="42.8" r="1.9"/><circle cx="301.9" cy="36.4" r="1.9"/><circle cx="302.1" cy="42.5" r="1.9"/><circle cx="306.1" cy="36.2" r="1.9"/><circle cx="306.1" cy="43.0" r="1.9"/><circle cx="309.1" cy="36.3" r="1.9"/><circle cx="308.9" cy="42.4" r="1.9"/><circle cx="312.1" cy="35.6" r="1.9"/><circle cx="312.3" cy="42.7" r="1.9"/><circle cx="315.6" cy="35.9" r="1.9"/><circle cx="315.4" cy="43.5" r="1.9"/><circle cx="318.9" cy="35.0" r="1.9"/><circle cx="318.3" cy="43.9" r="1.9"/><circle cx="321.9" cy="34.1" r="1.9"/><circle cx="321.5" cy="44.2" r="1.9"/><circle cx="325.3" cy="34.1" r="1.9"/><circle cx="324.7" cy="44.6" r="1.9"/><circle cx="328.9" cy="33.9" r="1.9"/><circle cx="328.9" cy="45.5" r="1.9"/><circle cx="331.7" cy="34.0" r="1.9"/><circle cx="331.5" cy="44.3" r="1.9"/><circle cx="335.6" cy="35.0" r="1.9"/><circle cx="335.9" cy="43.7" r="1.9"/><circle cx="339.2" cy="33.8" r="1.9"/><circle cx="338.7" cy="44.9" r="1.9"/><circle cx="341.8" cy="32.0" r="1.9"/><circle cx="341.7" cy="46.6" r="1.9"/><circle cx="345.1" cy="31.1" r="1.9"/><circle cx="345.4" cy="47.9" r="1.9"/><circle cx="348.7" cy="30.6" r="1.9"/><circle cx="348.3" cy="48.1" r="1.9"/><circle cx="350.9" cy="30.4" r="1.9"/><circle cx="350.4" cy="48.8" r="1.9"/><circle cx="353.7" cy="29.8" r="1.9"/><circle cx="353.7" cy="48.6" r="1.9"/><circle cx="356.9" cy="29.5" r="1.9"/><circle cx="356.4" cy="49.0" r="1.9"/><circle cx="359.4" cy="30.4" r="1.9"/><circle cx="359.7" cy="48.1" r="1.9"/><circle cx="363.4" cy="32.5" r="1.9"/><circle cx="363.1" cy="46.3" r="1.9"/><circle cx="366.3" cy="34.8" r="1.9"/><circle cx="366.2" cy="44.0" r="1.9"/><circle cx="369.9" cy="36.7" r="1.9"/><circle cx="370.1" cy="41.5" r="1.9"/></g>
<g clip-path="url(#c2)"><circle cx="250.6" cy="39.1" r="1.6" fill="#5F136E"/><circle cx="268.4" cy="35.9" r="1.6" fill="#C73E4C"/><circle cx="366.9" cy="35.7" r="1.6" fill="#FA9008"/><circle cx="331.4" cy="34.5" r="1.6" fill="#F57B17"/><circle cx="377.5" cy="38.2" r="1.6" fill="#FB9B06"/><circle cx="292.1" cy="39.2" r="1.6" fill="#E65D2F"/><circle cx="256.5" cy="38.9" r="1.6" fill="#85216B"/><circle cx="283.2" cy="36.4" r="1.6" fill="#DD513A"/><circle cx="235.2" cy="39.6" r="1.6" fill="#69166E"/><circle cx="235.0" cy="38.6" r="1.6" fill="#6F196E"/><circle cx="309.2" cy="35.2" r="1.6" fill="#F1711F"/><circle cx="350.6" cy="49.3" r="1.6" fill="#F1731D"/><circle cx="272.2" cy="35.4" r="1.6" fill="#C03A51"/><circle cx="251.7" cy="39.0" r="1.6" fill="#7D1E6D"/><circle cx="355.2" cy="34.1" r="1.6" fill="#F3761B"/><circle cx="370.3" cy="39.9" r="1.6" fill="#FA9008"/><circle cx="245.7" cy="37.3" r="1.6" fill="#741A6E"/><circle cx="296.1" cy="35.2" r="1.6" fill="#E55C30"/><circle cx="352.6" cy="30.4" r="1.6" fill="#FA9008"/><circle cx="242.3" cy="41.0" r="1.6" fill="#6A176E"/><circle cx="283.2" cy="39.9" r="1.6" fill="#D04545"/><circle cx="251.7" cy="39.5" r="1.6" fill="#65156E"/><circle cx="248.7" cy="37.7" r="1.6" fill="#5F136E"/><circle cx="262.6" cy="38.0" r="1.6" fill="#AE305C"/><circle cx="275.8" cy="39.4" r="1.6" fill="#CC4248"/><circle cx="235.0" cy="38.3" r="1.6" fill="#5A116E"/><circle cx="342.3" cy="40.3" r="1.6" fill="#EF6C23"/><circle cx="303.6" cy="43.4" r="1.6" fill="#ED6925"/><circle cx="297.2" cy="39.3" r="1.6" fill="#E15635"/><circle cx="308.4" cy="41.1" r="1.6" fill="#F1711F"/><circle cx="283.7" cy="42.6" r="1.6" fill="#DA4E3C"/><circle cx="293.0" cy="37.9" r="1.6" fill="#87216B"/><circle cx="234.4" cy="39.9" r="1.6" fill="#771C6D"/><circle cx="297.0" cy="35.0" r="1.6" fill="#E05536"/><circle cx="308.2" cy="43.8" r="1.6" fill="#EA632A"/><circle cx="336.3" cy="34.2" r="1.6" fill="#EB6628"/><circle cx="272.7" cy="35.0" r="1.6" fill="#C43C4E"/><circle cx="380.1" cy="38.5" r="1.6" fill="#F37819"/><circle cx="364.7" cy="35.3" r="1.6" fill="#F57B17"/><circle cx="282.6" cy="35.3" r="1.6" fill="#DA4E3C"/><circle cx="269.6" cy="41.6" r="1.6" fill="#CA404A"/><circle cx="253.9" cy="39.8" r="1.6" fill="#741A6E"/><circle cx="277.3" cy="40.6" r="1.6" fill="#DE5238"/><circle cx="360.4" cy="32.6" r="1.6" fill="#FB9606"/><circle cx="350.0" cy="41.4" r="1.6" fill="#F8890C"/><circle cx="340.5" cy="39.3" r="1.6" fill="#EF6E21"/><circle cx="325.2" cy="34.4" r="1.6" fill="#F2741C"/><circle cx="339.6" cy="39.6" r="1.6" fill="#F1731D"/><circle cx="337.5" cy="39.4" r="1.6" fill="#F78212"/><circle cx="345.3" cy="40.7" r="1.6" fill="#F8850F"/><circle cx="234.7" cy="40.2" r="1.6" fill="#751B6E"/><circle cx="339.0" cy="46.0" r="1.6" fill="#F47918"/><circle cx="245.1" cy="37.2" r="1.6" fill="#721A6E"/><circle cx="376.3" cy="38.8" r="1.6" fill="#F8870E"/><circle cx="239.9" cy="37.2" r="1.6" fill="#6D186E"/><circle cx="269.0" cy="37.4" r="1.6" fill="#B1325A"/><circle cx="372.3" cy="41.7" r="1.6" fill="#F47918"/><circle cx="311.3" cy="41.7" r="1.6" fill="#E9612B"/><circle cx="353.8" cy="46.8" r="1.6" fill="#F47918"/><circle cx="345.8" cy="34.1" r="1.6" fill="#F68013"/><circle cx="301.4" cy="42.6" r="1.6" fill="#B73557"/><circle cx="275.4" cy="35.3" r="1.6" fill="#C73E4C"/><circle cx="322.3" cy="37.2" r="1.6" fill="#EF6C23"/><circle cx="336.3" cy="40.7" r="1.6" fill="#EB6429"/><circle cx="304.7" cy="39.2" r="1.6" fill="#DF5337"/><circle cx="265.0" cy="39.3" r="1.6" fill="#AB2F5E"/><circle cx="302.2" cy="41.9" r="1.6" fill="#E8602D"/><circle cx="279.1" cy="35.4" r="1.6" fill="#CE4347"/><circle cx="243.8" cy="39.4" r="1.6" fill="#7D1E6D"/><circle cx="381.5" cy="38.8" r="1.6" fill="#FB9906"/><circle cx="372.0" cy="36.8" r="1.6" fill="#F47918"/><circle cx="344.5" cy="34.8" r="1.6" fill="#F2741C"/><circle cx="322.9" cy="41.1" r="1.6" fill="#E9612B"/><circle cx="249.2" cy="38.7" r="1.6" fill="#6D186E"/><circle cx="363.8" cy="37.7" r="1.6" fill="#F57B17"/><circle cx="374.9" cy="40.2" r="1.6" fill="#F8850F"/><circle cx="341.5" cy="37.9" r="1.6" fill="#F1731D"/><circle cx="250.4" cy="38.5" r="1.6" fill="#69166E"/><circle cx="283.1" cy="38.4" r="1.6" fill="#CE4347"/><circle cx="234.1" cy="40.4" r="1.6" fill="#62146E"/><circle cx="242.1" cy="38.9" r="1.6" fill="#781C6D"/><circle cx="243.8" cy="41.3" r="1.6" fill="#751B6E"/><circle cx="360.5" cy="35.1" r="1.6" fill="#F3761B"/><circle cx="331.7" cy="41.2" r="1.6" fill="#E9612B"/><circle cx="378.1" cy="39.1" r="1.6" fill="#F78212"/><circle cx="348.4" cy="45.2" r="1.6" fill="#F57B17"/><circle cx="236.7" cy="40.5" r="1.6" fill="#67166E"/><circle cx="363.7" cy="40.2" r="1.6" fill="#F57D15"/><circle cx="244.4" cy="41.3" r="1.6" fill="#6A176E"/><circle cx="324.6" cy="34.4" r="1.6" fill="#F3761B"/><circle cx="305.2" cy="43.2" r="1.6" fill="#E8602D"/><circle cx="257.9" cy="38.8" r="1.6" fill="#84206B"/><circle cx="270.7" cy="41.4" r="1.6" fill="#C13A50"/><circle cx="268.1" cy="39.2" r="1.6" fill="#B1325A"/><circle cx="328.8" cy="33.3" r="1.6" fill="#EE6A24"/><circle cx="354.2" cy="40.4" r="1.6" fill="#F68013"/><circle cx="282.3" cy="41.9" r="1.6" fill="#D84C3E"/><circle cx="268.9" cy="36.7" r="1.6" fill="#B93556"/><circle cx="287.6" cy="42.4" r="1.6" fill="#CE4347"/><circle cx="363.0" cy="37.4" r="1.6" fill="#FA9008"/><circle cx="263.8" cy="37.7" r="1.6" fill="#AB2F5E"/><circle cx="318.5" cy="37.8" r="1.6" fill="#EF6C23"/><circle cx="311.7" cy="42.1" r="1.6" fill="#EF6E21"/><circle cx="246.2" cy="41.2" r="1.6" fill="#69166E"/><circle cx="329.2" cy="38.4" r="1.6" fill="#EB6628"/><circle cx="354.5" cy="49.5" r="1.6" fill="#F3761B"/><circle cx="296.1" cy="41.9" r="1.6" fill="#EB6628"/><circle cx="305.8" cy="35.4" r="1.6" fill="#EF6E21"/><circle cx="371.6" cy="39.5" r="1.6" fill="#F8870E"/><circle cx="299.7" cy="42.1" r="1.6" fill="#DE5238"/><circle cx="378.2" cy="37.6" r="1.6" fill="#FB9606"/><circle cx="337.5" cy="43.7" r="1.6" fill="#F68013"/><circle cx="245.1" cy="40.6" r="1.6" fill="#5C126E"/><circle cx="251.2" cy="39.7" r="1.6" fill="#5F136E"/><circle cx="339.6" cy="46.4" r="1.6" fill="#F47918"/><circle cx="311.6" cy="38.8" r="1.6" fill="#EE6A24"/><circle cx="247.2" cy="38.4" r="1.6" fill="#7D1E6D"/><circle cx="261.1" cy="37.7" r="1.6" fill="#A62D60"/><circle cx="232.5" cy="39.5" r="1.6" fill="#7C1D6D"/><circle cx="274.1" cy="37.7" r="1.6" fill="#C43C4E"/><circle cx="311.3" cy="39.8" r="1.6" fill="#DF5337"/><circle cx="294.1" cy="40.8" r="1.6" fill="#87216B"/><circle cx="307.1" cy="41.0" r="1.6" fill="#E65D2F"/><circle cx="270.9" cy="40.8" r="1.6" fill="#BC3754"/><circle cx="237.4" cy="38.6" r="1.6" fill="#69166E"/><circle cx="334.8" cy="35.8" r="1.6" fill="#F57B17"/><circle cx="343.2" cy="39.4" r="1.6" fill="#EF6E21"/><circle cx="377.9" cy="38.5" r="1.6" fill="#FB9606"/><circle cx="266.9" cy="37.2" r="1.6" fill="#B3325A"/><circle cx="375.2" cy="39.3" r="1.6" fill="#F57D15"/><circle cx="265.8" cy="38.7" r="1.6" fill="#C43C4E"/><circle cx="254.3" cy="38.8" r="1.6" fill="#71196E"/><circle cx="378.5" cy="37.7" r="1.6" fill="#F47918"/><circle cx="241.3" cy="38.9" r="1.6" fill="#7A1D6D"/><circle cx="364.9" cy="42.6" r="1.6" fill="#FB9B06"/><circle cx="372.1" cy="38.3" r="1.6" fill="#F57D15"/><circle cx="372.8" cy="40.7" r="1.6" fill="#F37819"/><circle cx="332.0" cy="37.7" r="1.6" fill="#ED6925"/><circle cx="282.1" cy="36.2" r="1.6" fill="#A02A63"/><circle cx="244.4" cy="39.0" r="1.6" fill="#7A1D6D"/><circle cx="316.5" cy="42.2" r="1.6" fill="#E8602D"/><circle cx="347.7" cy="35.5" r="1.6" fill="#F8890C"/><circle cx="245.5" cy="40.3" r="1.6" fill="#62146E"/><circle cx="313.6" cy="38.8" r="1.6" fill="#E65D2F"/><circle cx="343.0" cy="38.9" r="1.6" fill="#F57D15"/><circle cx="269.5" cy="40.4" r="1.6" fill="#BD3853"/><circle cx="302.0" cy="42.2" r="1.6" fill="#87216B"/><circle cx="344.5" cy="46.9" r="1.6" fill="#F2741C"/><circle cx="273.2" cy="43.4" r="1.6" fill="#C33B4F"/><circle cx="339.9" cy="36.5" r="1.6" fill="#EF6E21"/><circle cx="232.9" cy="40.5" r="1.6" fill="#781C6D"/><circle cx="327.5" cy="45.8" r="1.6" fill="#E55C30"/><circle cx="267.4" cy="39.2" r="1.6" fill="#C83F4B"/><circle cx="290.3" cy="36.9" r="1.6" fill="#DD513A"/><circle cx="371.6" cy="37.4" r="1.6" fill="#FA9407"/><circle cx="343.1" cy="45.3" r="1.6" fill="#F78212"/><circle cx="323.4" cy="37.1" r="1.6" fill="#EA632A"/><circle cx="286.6" cy="42.1" r="1.6" fill="#87216B"/><circle cx="291.1" cy="36.0" r="1.6" fill="#E15635"/><circle cx="304.6" cy="39.8" r="1.6" fill="#E65D2F"/><circle cx="248.1" cy="37.3" r="1.6" fill="#721A6E"/><circle cx="263.6" cy="38.8" r="1.6" fill="#BA3655"/><circle cx="258.3" cy="36.9" r="1.6" fill="#8C2369"/><circle cx="366.1" cy="36.1" r="1.6" fill="#F8890C"/><circle cx="348.5" cy="44.6" r="1.6" fill="#F8890C"/><circle cx="276.4" cy="37.3" r="1.6" fill="#CA404A"/><circle cx="271.4" cy="38.8" r="1.6" fill="#BD3853"/><circle cx="274.5" cy="43.0" r="1.6" fill="#C03A51"/><circle cx="270.1" cy="37.3" r="1.6" fill="#C73E4C"/><circle cx="247.4" cy="39.2" r="1.6" fill="#5D126E"/><circle cx="233.0" cy="41.0" r="1.6" fill="#61136E"/><circle cx="299.6" cy="38.1" r="1.6" fill="#E05536"/><circle cx="239.9" cy="39.8" r="1.6" fill="#771C6D"/><circle cx="261.4" cy="36.4" r="1.6" fill="#9F2A63"/><circle cx="259.0" cy="40.0" r="1.6" fill="#9B2964"/><circle cx="332.1" cy="32.8" r="1.6" fill="#F1731D"/><circle cx="338.8" cy="37.2" r="1.6" fill="#EB6429"/><circle cx="283.3" cy="34.9" r="1.6" fill="#CA404A"/><circle cx="342.2" cy="46.8" r="1.6" fill="#F78410"/><circle cx="355.2" cy="37.4" r="1.6" fill="#F67E14"/><circle cx="325.5" cy="33.4" r="1.6" fill="#E45A31"/><circle cx="306.7" cy="39.2" r="1.6" fill="#E65D2F"/><circle cx="351.8" cy="42.9" r="1.6" fill="#F2741C"/><circle cx="312.5" cy="40.8" r="1.6" fill="#E75E2E"/><circle cx="273.0" cy="43.6" r="1.6" fill="#C73E4C"/><circle cx="240.0" cy="40.4" r="1.6" fill="#781C6D"/><circle cx="294.5" cy="34.6" r="1.6" fill="#E75E2E"/><circle cx="329.0" cy="37.8" r="1.6" fill="#EC6726"/><circle cx="373.7" cy="39.0" r="1.6" fill="#F57B17"/><circle cx="249.3" cy="37.4" r="1.6" fill="#71196E"/><circle cx="287.0" cy="42.1" r="1.6" fill="#CE4347"/><circle cx="253.7" cy="41.0" r="1.6" fill="#741A6E"/><circle cx="318.3" cy="44.2" r="1.6" fill="#EF6E21"/><circle cx="258.1" cy="38.4" r="1.6" fill="#801F6C"/><circle cx="258.1" cy="36.5" r="1.6" fill="#88226A"/><circle cx="345.4" cy="45.0" r="1.6" fill="#F8850F"/><circle cx="277.6" cy="42.5" r="1.6" fill="#A02A63"/><circle cx="279.5" cy="40.4" r="1.6" fill="#C83F4B"/><circle cx="339.2" cy="42.1" r="1.6" fill="#F78212"/><circle cx="328.4" cy="44.5" r="1.6" fill="#F06F20"/><circle cx="324.6" cy="35.2" r="1.6" fill="#EC6726"/><circle cx="317.2" cy="34.3" r="1.6" fill="#F2741C"/><circle cx="255.8" cy="38.6" r="1.6" fill="#751B6E"/><circle cx="378.0" cy="40.7" r="1.6" fill="#F67E14"/><circle cx="365.0" cy="44.1" r="1.6" fill="#F98E09"/><circle cx="332.6" cy="37.1" r="1.6" fill="#EE6A24"/><circle cx="300.7" cy="42.7" r="1.6" fill="#E9612B"/><circle cx="278.6" cy="37.0" r="1.6" fill="#CF4446"/><circle cx="307.9" cy="36.3" r="1.6" fill="#DE5238"/><circle cx="380.3" cy="39.2" r="1.6" fill="#F8870E"/><circle cx="325.1" cy="43.8" r="1.6" fill="#F2741C"/><circle cx="354.0" cy="37.2" r="1.6" fill="#F1731D"/><circle cx="286.1" cy="38.0" r="1.6" fill="#D94D3D"/><circle cx="330.9" cy="32.9" r="1.6" fill="#E8602D"/><circle cx="370.7" cy="38.1" r="1.6" fill="#FA9008"/><circle cx="244.3" cy="40.5" r="1.6" fill="#7A1D6D"/><circle cx="330.3" cy="43.4" r="1.6" fill="#E65D2F"/><circle cx="242.3" cy="39.9" r="1.6" fill="#741A6E"/><circle cx="248.7" cy="37.6" r="1.6" fill="#7C1D6D"/><circle cx="275.5" cy="42.2" r="1.6" fill="#D44842"/><circle cx="340.5" cy="34.8" r="1.6" fill="#F78212"/><circle cx="323.9" cy="36.0" r="1.6" fill="#EA632A"/><circle cx="324.4" cy="44.9" r="1.6" fill="#EC6726"/><circle cx="270.4" cy="43.2" r="1.6" fill="#C63D4D"/><circle cx="324.7" cy="35.7" r="1.6" fill="#EB6429"/><circle cx="262.2" cy="38.7" r="1.6" fill="#9B2964"/><circle cx="281.5" cy="38.2" r="1.6" fill="#CF4446"/><circle cx="347.6" cy="30.3" r="1.6" fill="#F98B0B"/><circle cx="377.3" cy="39.2" r="1.6" fill="#F98B0B"/><circle cx="335.7" cy="43.9" r="1.6" fill="#EC6726"/><circle cx="312.7" cy="42.8" r="1.6" fill="#EE6A24"/><circle cx="288.1" cy="38.1" r="1.6" fill="#D24644"/><circle cx="282.0" cy="35.3" r="1.6" fill="#D94D3D"/><circle cx="376.1" cy="38.5" r="1.6" fill="#F8890C"/><circle cx="278.8" cy="43.8" r="1.6" fill="#DE5238"/><circle cx="366.7" cy="41.9" r="1.6" fill="#FA9207"/><circle cx="265.6" cy="37.8" r="1.6" fill="#B3325A"/><circle cx="287.0" cy="34.9" r="1.6" fill="#DD513A"/><circle cx="239.1" cy="37.4" r="1.6" fill="#6D186E"/><circle cx="277.9" cy="39.6" r="1.6" fill="#D04545"/><circle cx="277.5" cy="36.0" r="1.6" fill="#DA4E3C"/><circle cx="256.1" cy="36.5" r="1.6" fill="#8D2369"/><circle cx="338.5" cy="38.7" r="1.6" fill="#EB6429"/><circle cx="254.0" cy="40.2" r="1.6" fill="#71196E"/><circle cx="354.1" cy="49.5" r="1.6" fill="#F1731D"/><circle cx="355.5" cy="47.9" r="1.6" fill="#F8870E"/><circle cx="319.1" cy="40.5" r="1.6" fill="#EB6628"/><circle cx="306.3" cy="36.3" r="1.6" fill="#DD513A"/><circle cx="241.5" cy="37.2" r="1.6" fill="#61136E"/><circle cx="256.2" cy="41.8" r="1.6" fill="#751B6E"/><circle cx="324.3" cy="41.5" r="1.6" fill="#E75E2E"/><circle cx="294.3" cy="39.5" r="1.6" fill="#E45A31"/><circle cx="294.6" cy="40.5" r="1.6" fill="#D54A41"/><circle cx="326.3" cy="46.4" r="1.6" fill="#F1711F"/><circle cx="304.0" cy="39.7" r="1.6" fill="#E65D2F"/><circle cx="369.2" cy="36.0" r="1.6" fill="#F98E09"/><circle cx="258.6" cy="42.7" r="1.6" fill="#87216B"/><circle cx="329.0" cy="34.0" r="1.6" fill="#F47918"/><circle cx="371.2" cy="42.2" r="1.6" fill="#F68013"/><circle cx="240.2" cy="40.0" r="1.6" fill="#721A6E"/></g>
<path d="M308.0 62.4 C308.1 62.1 308.3 61.1 308.7 60.8 C309.1 60.4 309.9 60.8 310.3 60.1 C310.7 59.4 310.7 57.5 311.0 56.7 C311.3 55.8 311.7 55.5 312.0 55.0 C312.3 54.4 312.7 53.8 313.0 53.3 C313.3 52.9 313.7 52.4 314.0 52.1 C314.3 51.8 314.7 51.5 315.0 51.4 C315.3 51.2 315.7 51.2 316.0 51.2 C316.3 51.2 316.7 51.2 317.0 51.3 C317.3 51.4 317.7 51.5 318.0 51.7 C318.3 51.9 318.7 52.2 319.0 52.5 C319.3 52.8 319.7 53.3 320.0 53.7 C320.3 54.1 320.7 54.6 321.0 55.1 C321.3 55.6 321.7 56.1 322.0 56.6 C322.3 57.0 322.7 57.5 323.0 57.8 C323.3 58.2 323.7 58.5 324.0 58.8 C324.3 59.1 324.7 59.3 325.0 59.4 C325.3 59.6 325.8 59.7 326.0 59.8 C326.2 59.9 326.1 60.0 326.5 60.1 C326.9 60.3 327.7 60.4 328.1 60.8 C328.5 61.1 328.7 62.1 328.8 62.4 L328.8 62.4 C328.7 62.7 328.5 63.7 328.1 64.1 C327.7 64.5 326.9 64.6 326.5 64.7 C326.1 64.9 326.2 64.9 326.0 65.0 C325.8 65.1 325.3 65.2 325.0 65.4 C324.7 65.6 324.3 65.8 324.0 66.0 C323.7 66.3 323.3 66.6 323.0 67.0 C322.7 67.4 322.3 67.8 322.0 68.3 C321.7 68.7 321.3 69.2 321.0 69.7 C320.7 70.2 320.3 70.7 320.0 71.1 C319.7 71.6 319.3 72.0 319.0 72.3 C318.7 72.7 318.3 72.9 318.0 73.1 C317.7 73.3 317.3 73.5 317.0 73.5 C316.7 73.6 316.3 73.6 316.0 73.6 C315.7 73.6 315.3 73.6 315.0 73.4 C314.7 73.3 314.3 73.1 314.0 72.7 C313.7 72.4 313.3 72.0 313.0 71.5 C312.7 71.0 312.3 70.4 312.0 69.8 C311.7 69.3 311.3 69.0 311.0 68.1 C310.7 67.3 310.7 65.4 310.3 64.7 C309.9 64.0 309.1 64.5 308.7 64.1 C308.3 63.7 308.1 62.7 308.0 62.4 Z" fill="#57106E" stroke="#57106E" stroke-width="0.8" stroke-linejoin="round"/>
<g fill="#57106E"><circle cx="310.7" cy="58.5" r="1.9"/><circle cx="311.0" cy="65.9" r="1.9"/><circle cx="314.4" cy="53.8" r="1.9"/><circle cx="314.0" cy="71.1" r="1.9"/><circle cx="317.9" cy="53.1" r="1.9"/><circle cx="317.2" cy="72.3" r="1.9"/><circle cx="320.2" cy="55.5" r="1.9"/><circle cx="320.2" cy="69.6" r="1.9"/><circle cx="324.3" cy="59.8" r="1.9"/><circle cx="323.9" cy="64.8" r="1.9"/></g>
<circle cx="329.8" cy="62.6" r="2.2" fill="#8C8C8C"/>
<path d="M347.2 62.3 C347.3 62.1 347.5 61.2 347.8 60.8 C348.2 60.5 348.1 60.3 349.3 60.2 C350.5 60.1 352.4 60.3 355.0 60.2 C357.6 60.2 360.8 60.0 365.0 59.9 C369.2 59.8 374.2 59.8 380.0 59.8 C385.8 59.8 394.7 59.9 400.0 60.0 C405.3 60.1 408.5 60.2 412.0 60.2 C415.5 60.2 419.4 60.1 421.2 60.2 C423.0 60.3 422.3 60.5 422.7 60.8 C423.0 61.2 423.2 62.1 423.3 62.3 L423.3 62.3 C423.2 62.6 423.0 63.5 422.7 63.8 C422.3 64.2 423.0 64.3 421.2 64.4 C419.4 64.5 415.5 64.4 412.0 64.4 C408.5 64.4 405.3 64.5 400.0 64.6 C394.7 64.7 385.8 64.8 380.0 64.8 C374.2 64.8 369.2 64.8 365.0 64.7 C360.8 64.6 357.6 64.5 355.0 64.4 C352.4 64.4 350.5 64.5 349.3 64.4 C348.1 64.3 348.2 64.2 347.8 63.8 C347.5 63.5 347.3 62.6 347.2 62.3 Z" fill="#FBBE23" stroke="#FBBE23" stroke-width="0.8" stroke-linejoin="round"/>
<path d="M274.5 85.5 C274.6 85.2 274.8 84.1 275.2 83.7 C275.7 83.3 275.9 83.1 277.0 83.0 C278.1 82.8 280.0 82.8 282.0 82.7 C284.0 82.5 286.8 82.4 289.0 82.0 C291.2 81.5 293.7 80.5 295.5 80.0 C297.3 79.5 298.3 79.4 300.0 79.0 C301.7 78.6 303.4 78.0 305.6 77.5 C307.8 77.0 310.4 76.5 313.0 76.1 C315.6 75.7 319.0 75.2 321.0 75.0 C323.0 74.7 323.5 74.6 325.0 74.7 C326.5 74.8 328.5 75.1 329.8 75.6 C331.1 76.0 331.4 76.8 332.6 77.3 C333.8 77.8 335.5 78.2 337.0 78.7 C338.5 79.1 339.2 79.5 341.5 80.0 C343.8 80.4 346.9 81.0 350.5 81.5 C354.1 81.9 358.1 82.4 363.0 82.7 C367.9 82.9 372.2 83.0 380.0 83.1 C387.8 83.2 401.1 83.1 410.0 83.2 C418.9 83.2 429.4 83.2 433.6 83.3 C437.8 83.4 434.8 83.5 435.1 83.9 C435.5 84.3 435.7 85.2 435.8 85.5 L435.8 85.5 C435.7 85.7 435.5 86.7 435.1 87.1 C434.8 87.4 437.8 87.6 433.6 87.7 C429.4 87.8 418.9 87.7 410.0 87.8 C401.1 87.8 387.8 87.8 380.0 87.9 C372.2 88.0 367.9 88.0 363.0 88.3 C358.1 88.5 354.1 89.0 350.5 89.5 C346.9 89.9 343.8 90.5 341.5 91.0 C339.2 91.4 338.5 91.8 337.0 92.3 C335.5 92.7 333.8 93.2 332.6 93.7 C331.4 94.2 331.1 94.9 329.8 95.4 C328.5 95.8 326.5 96.2 325.0 96.3 C323.5 96.4 323.0 96.2 321.0 96.0 C319.0 95.7 315.6 95.3 313.0 94.9 C310.4 94.5 307.8 94.0 305.6 93.5 C303.4 93.0 301.7 92.4 300.0 92.0 C298.3 91.6 297.3 91.5 295.5 91.0 C293.7 90.5 291.2 89.4 289.0 89.0 C286.8 88.5 284.0 88.4 282.0 88.3 C280.0 88.1 278.1 88.1 277.0 88.0 C275.9 87.8 275.7 87.7 275.2 87.3 C274.8 86.9 274.6 85.8 274.5 85.5 Z" fill="url(#g3)" stroke="url(#g3)" stroke-width="0.8" stroke-linejoin="round"/>
<g fill="url(#g3)"><circle cx="286.7" cy="83.3" r="1.9"/><circle cx="286.7" cy="87.5" r="1.9"/><circle cx="289.2" cy="83.5" r="1.9"/><circle cx="289.0" cy="88.1" r="1.9"/><circle cx="293.2" cy="82.5" r="1.9"/><circle cx="293.2" cy="88.9" r="1.9"/><circle cx="295.7" cy="81.0" r="1.9"/><circle cx="296.2" cy="89.5" r="1.9"/><circle cx="298.8" cy="80.7" r="1.9"/><circle cx="299.4" cy="90.0" r="1.9"/><circle cx="302.8" cy="79.5" r="1.9"/><circle cx="302.5" cy="91.2" r="1.9"/><circle cx="305.5" cy="78.7" r="1.9"/><circle cx="304.8" cy="92.0" r="1.9"/><circle cx="307.9" cy="78.8" r="1.9"/><circle cx="308.0" cy="92.7" r="1.9"/><circle cx="311.4" cy="77.9" r="1.9"/><circle cx="311.3" cy="93.2" r="1.9"/><circle cx="314.5" cy="77.7" r="1.9"/><circle cx="314.1" cy="93.3" r="1.9"/><circle cx="317.9" cy="76.5" r="1.9"/><circle cx="317.6" cy="94.5" r="1.9"/><circle cx="320.7" cy="76.7" r="1.9"/><circle cx="321.0" cy="94.9" r="1.9"/><circle cx="323.2" cy="75.8" r="1.9"/><circle cx="323.8" cy="94.8" r="1.9"/><circle cx="327.2" cy="76.8" r="1.9"/><circle cx="326.9" cy="94.2" r="1.9"/><circle cx="331.0" cy="77.3" r="1.9"/><circle cx="330.5" cy="93.6" r="1.9"/><circle cx="333.4" cy="79.0" r="1.9"/><circle cx="333.6" cy="91.7" r="1.9"/><circle cx="337.3" cy="79.8" r="1.9"/><circle cx="336.8" cy="90.9" r="1.9"/><circle cx="340.6" cy="81.4" r="1.9"/><circle cx="340.5" cy="89.9" r="1.9"/><circle cx="343.9" cy="81.7" r="1.9"/><circle cx="343.8" cy="89.1" r="1.9"/><circle cx="347.0" cy="82.5" r="1.9"/><circle cx="347.1" cy="88.7" r="1.9"/><circle cx="350.5" cy="83.1" r="1.9"/><circle cx="350.8" cy="88.3" r="1.9"/><circle cx="354.0" cy="82.8" r="1.9"/><circle cx="354.0" cy="87.8" r="1.9"/><circle cx="356.4" cy="83.1" r="1.9"/><circle cx="356.4" cy="87.8" r="1.9"/></g>
<g clip-path="url(#c4)"><circle cx="387.6" cy="85.9" r="2.1" fill="#8C8C8C"/><circle cx="342.4" cy="82.6" r="2.1" fill="#8C8C8C"/><circle cx="379.7" cy="87.3" r="2.1" fill="#8C8C8C"/><circle cx="387.4" cy="87.1" r="2.1" fill="#8C8C8C"/><circle cx="303.8" cy="79.8" r="2.1" fill="#A02A63"/><circle cx="325.0" cy="88.2" r="2.1" fill="#E35933"/><circle cx="418.8" cy="84.3" r="2.1" fill="#A02A63"/><circle cx="389.5" cy="86.1" r="2.1" fill="#B73557"/><circle cx="411.5" cy="85.4" r="2.1" fill="#E05536"/><circle cx="374.8" cy="85.0" r="2.1" fill="#8C8C8C"/><circle cx="381.1" cy="87.3" r="2.1" fill="#8C8C8C"/><circle cx="327.4" cy="75.3" r="2.1" fill="#E05536"/><circle cx="353.5" cy="89.0" r="2.1" fill="#E05536"/><circle cx="315.0" cy="80.0" r="2.1" fill="#8C8C8C"/><circle cx="400.6" cy="87.5" r="2.1" fill="#7C1D6D"/><circle cx="330.7" cy="92.0" r="2.1" fill="#87216B"/><circle cx="361.8" cy="86.7" r="2.1" fill="#7C1D6D"/><circle cx="277.1" cy="87.0" r="2.1" fill="#E75E2E"/><circle cx="358.6" cy="84.9" r="2.1" fill="#87216B"/><circle cx="308.4" cy="88.6" r="2.1" fill="#A02A63"/><circle cx="357.4" cy="88.4" r="2.1" fill="#8C8C8C"/><circle cx="433.3" cy="84.8" r="2.1" fill="#E05536"/><circle cx="315.2" cy="83.2" r="2.1" fill="#E05536"/><circle cx="276.6" cy="85.0" r="2.1" fill="#E75E2E"/><circle cx="375.9" cy="86.3" r="2.1" fill="#8C8C8C"/><circle cx="317.3" cy="80.0" r="2.1" fill="#8C8C8C"/><circle cx="339.1" cy="91.1" r="2.1" fill="#CC4248"/><circle cx="434.9" cy="87.5" r="2.1" fill="#87216B"/><circle cx="308.7" cy="79.1" r="2.1" fill="#EB6628"/><circle cx="285.6" cy="87.4" r="2.1" fill="#EE6A24"/><circle cx="350.2" cy="86.0" r="2.1" fill="#CC4248"/><circle cx="405.9" cy="83.8" r="2.1" fill="#8C8C8C"/><circle cx="377.5" cy="87.0" r="2.1" fill="#E05536"/><circle cx="341.2" cy="91.0" r="2.1" fill="#EB6628"/><circle cx="362.9" cy="83.4" r="2.1" fill="#E05536"/><circle cx="350.2" cy="87.8" r="2.1" fill="#CC4248"/><circle cx="317.6" cy="83.0" r="2.1" fill="#B73557"/><circle cx="433.0" cy="86.3" r="2.1" fill="#87216B"/><circle cx="274.9" cy="86.6" r="2.1" fill="#E75E2E"/><circle cx="332.2" cy="88.1" r="2.1" fill="#AB2F5E"/><circle cx="351.9" cy="84.9" r="2.1" fill="#8C8C8C"/><circle cx="288.3" cy="88.2" r="2.1" fill="#EE6A24"/><circle cx="424.3" cy="87.1" r="2.1" fill="#E05536"/><circle cx="288.3" cy="85.9" r="2.1" fill="#E75E2E"/><circle cx="401.0" cy="83.8" r="2.1" fill="#E05536"/><circle cx="330.2" cy="87.1" r="2.1" fill="#8C8C8C"/><circle cx="276.4" cy="87.8" r="2.1" fill="#E05536"/><circle cx="321.8" cy="87.8" r="2.1" fill="#8C8C8C"/><circle cx="297.5" cy="82.3" r="2.1" fill="#EB6628"/><circle cx="347.4" cy="88.0" r="2.1" fill="#CC4248"/><circle cx="420.3" cy="86.8" r="2.1" fill="#D74B3F"/><circle cx="372.8" cy="86.4" r="2.1" fill="#EB6628"/><circle cx="289.1" cy="88.3" r="2.1" fill="#E05536"/><circle cx="401.6" cy="87.0" r="2.1" fill="#CC4248"/><circle cx="354.3" cy="83.4" r="2.1" fill="#E35933"/><circle cx="394.2" cy="85.2" r="2.1" fill="#E35933"/><circle cx="364.0" cy="84.2" r="2.1" fill="#CC4248"/><circle cx="407.9" cy="85.3" r="2.1" fill="#7C1D6D"/><circle cx="283.9" cy="85.3" r="2.1" fill="#EE6A24"/><circle cx="387.5" cy="84.3" r="2.1" fill="#D74B3F"/><circle cx="361.5" cy="87.6" r="2.1" fill="#E05536"/><circle cx="300.4" cy="83.1" r="2.1" fill="#8C8C8C"/><circle cx="365.2" cy="86.4" r="2.1" fill="#E05536"/><circle cx="349.6" cy="84.9" r="2.1" fill="#8C8C8C"/><circle cx="286.7" cy="86.4" r="2.1" fill="#E05536"/><circle cx="378.8" cy="83.1" r="2.1" fill="#E05536"/><circle cx="384.6" cy="87.5" r="2.1" fill="#AB2F5E"/><circle cx="404.9" cy="83.6" r="2.1" fill="#87216B"/><circle cx="352.7" cy="88.5" r="2.1" fill="#E05536"/><circle cx="308.9" cy="84.0" r="2.1" fill="#D74B3F"/><circle cx="329.1" cy="92.7" r="2.1" fill="#AB2F5E"/><circle cx="329.6" cy="91.0" r="2.1" fill="#7C1D6D"/><circle cx="398.8" cy="84.1" r="2.1" fill="#A02A63"/><circle cx="329.7" cy="80.5" r="2.1" fill="#E05536"/><circle cx="407.9" cy="84.5" r="2.1" fill="#E05536"/><circle cx="354.1" cy="84.3" r="2.1" fill="#B73557"/><circle cx="415.3" cy="84.8" r="2.1" fill="#CC4248"/><circle cx="380.1" cy="86.9" r="2.1" fill="#AB2F5E"/><circle cx="305.5" cy="88.9" r="2.1" fill="#D74B3F"/><circle cx="369.1" cy="86.2" r="2.1" fill="#EB6628"/><circle cx="435.2" cy="85.0" r="2.1" fill="#7C1D6D"/><circle cx="417.3" cy="85.7" r="2.1" fill="#E05536"/><circle cx="338.8" cy="80.5" r="2.1" fill="#E05536"/><circle cx="305.1" cy="92.1" r="2.1" fill="#8C8C8C"/><circle cx="398.1" cy="83.4" r="2.1" fill="#7C1D6D"/><circle cx="421.3" cy="86.0" r="2.1" fill="#8C8C8C"/><circle cx="298.2" cy="87.6" r="2.1" fill="#8C8C8C"/><circle cx="370.7" cy="86.4" r="2.1" fill="#CC4248"/><circle cx="280.9" cy="86.2" r="2.1" fill="#E05536"/><circle cx="397.5" cy="83.6" r="2.1" fill="#D74B3F"/><circle cx="414.7" cy="85.1" r="2.1" fill="#E35933"/><circle cx="421.9" cy="86.2" r="2.1" fill="#AB2F5E"/><circle cx="415.1" cy="83.8" r="2.1" fill="#B73557"/><circle cx="365.2" cy="84.1" r="2.1" fill="#B73557"/><circle cx="304.3" cy="78.3" r="2.1" fill="#E05536"/><circle cx="344.0" cy="86.9" r="2.1" fill="#E05536"/><circle cx="354.8" cy="85.6" r="2.1" fill="#E05536"/><circle cx="293.7" cy="88.5" r="2.1" fill="#8C8C8C"/><circle cx="386.7" cy="85.0" r="2.1" fill="#E35933"/><circle cx="276.8" cy="84.9" r="2.1" fill="#E05536"/><circle cx="434.7" cy="86.2" r="2.1" fill="#D74B3F"/><circle cx="351.2" cy="84.8" r="2.1" fill="#E35933"/><circle cx="287.9" cy="85.3" r="2.1" fill="#EE6A24"/><circle cx="375.6" cy="85.1" r="2.1" fill="#E05536"/><circle cx="384.8" cy="83.7" r="2.1" fill="#E05536"/><circle cx="288.7" cy="88.0" r="2.1" fill="#EE6A24"/><circle cx="350.7" cy="83.7" r="2.1" fill="#8C8C8C"/><circle cx="313.6" cy="89.9" r="2.1" fill="#D74B3F"/><circle cx="423.3" cy="84.9" r="2.1" fill="#8C8C8C"/><circle cx="389.6" cy="87.2" r="2.1" fill="#8C8C8C"/><circle cx="397.0" cy="84.5" r="2.1" fill="#7C1D6D"/><circle cx="388.9" cy="85.3" r="2.1" fill="#B73557"/><circle cx="421.9" cy="83.5" r="2.1" fill="#E05536"/><circle cx="276.3" cy="83.0" r="2.1" fill="#E05536"/><circle cx="385.3" cy="86.0" r="2.1" fill="#A02A63"/><circle cx="324.7" cy="90.4" r="2.1" fill="#D74B3F"/><circle cx="429.0" cy="87.0" r="2.1" fill="#8C8C8C"/><circle cx="284.1" cy="84.7" r="2.1" fill="#E05536"/><circle cx="391.9" cy="85.3" r="2.1" fill="#D74B3F"/><circle cx="297.9" cy="89.1" r="2.1" fill="#AB2F5E"/><circle cx="428.4" cy="84.0" r="2.1" fill="#EB6628"/><circle cx="341.9" cy="84.2" r="2.1" fill="#EB6628"/><circle cx="347.5" cy="83.4" r="2.1" fill="#EB6628"/><circle cx="365.9" cy="84.3" r="2.1" fill="#E05536"/><circle cx="374.8" cy="86.2" r="2.1" fill="#EB6628"/><circle cx="408.0" cy="84.7" r="2.1" fill="#8C8C8C"/><circle cx="391.6" cy="83.2" r="2.1" fill="#D74B3F"/><circle cx="371.5" cy="84.5" r="2.1" fill="#A02A63"/><circle cx="432.0" cy="84.3" r="2.1" fill="#A02A63"/><circle cx="385.0" cy="86.0" r="2.1" fill="#CC4248"/><circle cx="404.7" cy="84.5" r="2.1" fill="#E05536"/><circle cx="326.4" cy="80.6" r="2.1" fill="#D74B3F"/><circle cx="369.1" cy="87.1" r="2.1" fill="#EB6628"/><circle cx="281.3" cy="87.3" r="2.1" fill="#E05536"/><circle cx="298.2" cy="91.3" r="2.1" fill="#EB6628"/><circle cx="404.7" cy="86.3" r="2.1" fill="#87216B"/><circle cx="330.4" cy="77.6" r="2.1" fill="#7C1D6D"/><circle cx="352.7" cy="84.6" r="2.1" fill="#EB6628"/><circle cx="395.5" cy="87.5" r="2.1" fill="#CC4248"/><circle cx="324.4" cy="76.0" r="2.1" fill="#A02A63"/><circle cx="349.6" cy="83.0" r="2.1" fill="#B73557"/><circle cx="369.1" cy="82.9" r="2.1" fill="#A02A63"/><circle cx="348.7" cy="81.9" r="2.1" fill="#EB6628"/><circle cx="331.8" cy="77.9" r="2.1" fill="#A02A63"/><circle cx="368.0" cy="87.6" r="2.1" fill="#E05536"/><circle cx="358.7" cy="85.3" r="2.1" fill="#8C8C8C"/><circle cx="307.1" cy="80.7" r="2.1" fill="#E35933"/><circle cx="303.6" cy="88.5" r="2.1" fill="#AB2F5E"/><circle cx="367.7" cy="84.7" r="2.1" fill="#EB6628"/><circle cx="357.9" cy="83.2" r="2.1" fill="#E05536"/><circle cx="423.3" cy="85.4" r="2.1" fill="#E05536"/><circle cx="291.6" cy="86.6" r="2.1" fill="#EB6628"/><circle cx="287.7" cy="84.2" r="2.1" fill="#EE6A24"/><circle cx="330.1" cy="85.8" r="2.1" fill="#E05536"/><circle cx="289.7" cy="83.3" r="2.1" fill="#E05536"/><circle cx="352.9" cy="86.0" r="2.1" fill="#B73557"/><circle cx="423.8" cy="84.5" r="2.1" fill="#E35933"/><circle cx="427.2" cy="86.7" r="2.1" fill="#E05536"/><circle cx="372.7" cy="83.6" r="2.1" fill="#E05536"/><circle cx="280.6" cy="83.8" r="2.1" fill="#EE6A24"/><circle cx="335.5" cy="78.6" r="2.1" fill="#E05536"/><circle cx="364.4" cy="87.5" r="2.1" fill="#87216B"/><circle cx="353.0" cy="88.1" r="2.1" fill="#E35933"/><circle cx="413.7" cy="86.1" r="2.1" fill="#E35933"/><circle cx="388.4" cy="83.5" r="2.1" fill="#AB2F5E"/><circle cx="365.6" cy="86.2" r="2.1" fill="#8C8C8C"/><circle cx="356.2" cy="83.3" r="2.1" fill="#E05536"/><circle cx="300.3" cy="91.6" r="2.1" fill="#8C8C8C"/><circle cx="310.3" cy="77.3" r="2.1" fill="#B73557"/><circle cx="426.3" cy="83.5" r="2.1" fill="#7C1D6D"/><circle cx="420.4" cy="87.0" r="2.1" fill="#E05536"/><circle cx="316.1" cy="85.7" r="2.1" fill="#8C8C8C"/><circle cx="378.8" cy="87.8" r="2.1" fill="#E05536"/><circle cx="290.8" cy="84.0" r="2.1" fill="#E05536"/><circle cx="426.0" cy="86.3" r="2.1" fill="#B73557"/><circle cx="369.6" cy="85.2" r="2.1" fill="#8C8C8C"/><circle cx="291.5" cy="84.0" r="2.1" fill="#B73557"/><circle cx="337.4" cy="83.8" r="2.1" fill="#A02A63"/><circle cx="301.7" cy="81.8" r="2.1" fill="#D74B3F"/><circle cx="422.0" cy="87.2" r="2.1" fill="#87216B"/><circle cx="390.2" cy="84.0" r="2.1" fill="#E05536"/><circle cx="299.8" cy="89.8" r="2.1" fill="#E35933"/><circle cx="425.2" cy="87.1" r="2.1" fill="#8C8C8C"/><circle cx="297.0" cy="84.9" r="2.1" fill="#E35933"/><circle cx="423.9" cy="85.0" r="2.1" fill="#E05536"/><circle cx="375.9" cy="85.2" r="2.1" fill="#AB2F5E"/><circle cx="326.5" cy="79.9" r="2.1" fill="#E35933"/><circle cx="375.8" cy="83.7" r="2.1" fill="#CC4248"/><circle cx="393.2" cy="84.0" r="2.1" fill="#87216B"/><circle cx="363.8" cy="83.5" r="2.1" fill="#E05536"/><circle cx="298.6" cy="84.5" r="2.1" fill="#CC4248"/><circle cx="299.6" cy="82.5" r="2.1" fill="#E05536"/><circle cx="322.3" cy="91.9" r="2.1" fill="#B73557"/><circle cx="353.7" cy="84.1" r="2.1" fill="#87216B"/><circle cx="292.9" cy="90.0" r="2.1" fill="#E05536"/><circle cx="376.3" cy="86.9" r="2.1" fill="#CC4248"/><circle cx="364.8" cy="87.3" r="2.1" fill="#E35933"/><circle cx="316.1" cy="79.6" r="2.1" fill="#AB2F5E"/><circle cx="344.2" cy="83.1" r="2.1" fill="#CC4248"/><circle cx="423.7" cy="83.7" r="2.1" fill="#B73557"/><circle cx="341.5" cy="81.8" r="2.1" fill="#E05536"/><circle cx="391.7" cy="84.5" r="2.1" fill="#8C8C8C"/><circle cx="277.1" cy="87.1" r="2.1" fill="#E75E2E"/><circle cx="356.9" cy="85.1" r="2.1" fill="#EB6628"/><circle cx="408.7" cy="85.6" r="2.1" fill="#D74B3F"/><circle cx="332.6" cy="77.9" r="2.1" fill="#A02A63"/><circle cx="309.7" cy="86.7" r="2.1" fill="#D74B3F"/><circle cx="410.5" cy="85.6" r="2.1" fill="#CC4248"/><circle cx="389.3" cy="84.0" r="2.1" fill="#E35933"/><circle cx="408.2" cy="87.3" r="2.1" fill="#8C8C8C"/><circle cx="354.4" cy="83.8" r="2.1" fill="#CC4248"/><circle cx="296.6" cy="87.4" r="2.1" fill="#8C8C8C"/><circle cx="405.4" cy="85.9" r="2.1" fill="#CC4248"/><circle cx="276.1" cy="86.5" r="2.1" fill="#E05536"/><circle cx="340.3" cy="88.1" r="2.1" fill="#E05536"/><circle cx="358.1" cy="84.5" r="2.1" fill="#B73557"/><circle cx="410.3" cy="87.1" r="2.1" fill="#87216B"/><circle cx="289.1" cy="84.8" r="2.1" fill="#E75E2E"/><circle cx="296.0" cy="87.3" r="2.1" fill="#CC4248"/><circle cx="304.5" cy="90.6" r="2.1" fill="#AB2F5E"/><circle cx="280.4" cy="86.6" r="2.1" fill="#E05536"/><circle cx="370.5" cy="82.9" r="2.1" fill="#7C1D6D"/><circle cx="424.9" cy="87.6" r="2.1" fill="#E35933"/><circle cx="294.0" cy="87.6" r="2.1" fill="#E05536"/><circle cx="408.4" cy="87.4" r="2.1" fill="#EB6628"/><circle cx="389.2" cy="84.9" r="2.1" fill="#EB6628"/><circle cx="419.4" cy="84.5" r="2.1" fill="#E35933"/><circle cx="428.4" cy="85.4" r="2.1" fill="#7C1D6D"/><circle cx="278.6" cy="87.1" r="2.1" fill="#EE6A24"/><circle cx="277.8" cy="87.9" r="2.1" fill="#EE6A24"/><circle cx="374.4" cy="83.8" r="2.1" fill="#B73557"/><circle cx="314.9" cy="91.6" r="2.1" fill="#E05536"/><circle cx="277.6" cy="87.7" r="2.1" fill="#E05536"/><circle cx="306.0" cy="77.7" r="2.1" fill="#8C8C8C"/><circle cx="377.2" cy="85.3" r="2.1" fill="#CC4248"/><circle cx="387.8" cy="83.6" r="2.1" fill="#E05536"/><circle cx="289.6" cy="83.1" r="2.1" fill="#E75E2E"/><circle cx="294.3" cy="85.4" r="2.1" fill="#7C1D6D"/><circle cx="397.3" cy="83.6" r="2.1" fill="#E35933"/><circle cx="339.9" cy="81.1" r="2.1" fill="#8C8C8C"/><circle cx="311.2" cy="80.5" r="2.1" fill="#8C8C8C"/><circle cx="366.9" cy="86.8" r="2.1" fill="#D74B3F"/><circle cx="427.4" cy="83.3" r="2.1" fill="#8C8C8C"/><circle cx="337.2" cy="84.4" r="2.1" fill="#E05536"/><circle cx="371.7" cy="83.1" r="2.1" fill="#E05536"/><circle cx="399.8" cy="84.7" r="2.1" fill="#CC4248"/><circle cx="409.8" cy="86.5" r="2.1" fill="#E05536"/><circle cx="432.8" cy="86.8" r="2.1" fill="#AB2F5E"/><circle cx="406.0" cy="87.1" r="2.1" fill="#E05536"/><circle cx="326.9" cy="78.1" r="2.1" fill="#8C8C8C"/><circle cx="425.2" cy="84.3" r="2.1" fill="#A02A63"/><circle cx="381.5" cy="83.1" r="2.1" fill="#E35933"/><circle cx="360.1" cy="82.8" r="2.1" fill="#A02A63"/><circle cx="306.9" cy="88.3" r="2.1" fill="#CC4248"/><circle cx="297.0" cy="90.9" r="2.1" fill="#EB6628"/><circle cx="435.4" cy="85.3" r="2.1" fill="#E05536"/><circle cx="405.0" cy="87.3" r="2.1" fill="#E05536"/><circle cx="280.0" cy="86.2" r="2.1" fill="#E75E2E"/><circle cx="422.6" cy="86.0" r="2.1" fill="#8C8C8C"/><circle cx="362.0" cy="87.9" r="2.1" fill="#8C8C8C"/><circle cx="290.7" cy="82.4" r="2.1" fill="#E05536"/><circle cx="344.5" cy="90.0" r="2.1" fill="#B73557"/><circle cx="292.7" cy="84.1" r="2.1" fill="#D74B3F"/><circle cx="293.9" cy="86.4" r="2.1" fill="#7C1D6D"/><circle cx="419.9" cy="83.6" r="2.1" fill="#8C8C8C"/><circle cx="360.6" cy="83.3" r="2.1" fill="#E35933"/><circle cx="357.0" cy="88.1" r="2.1" fill="#A02A63"/><circle cx="367.6" cy="84.3" r="2.1" fill="#8C8C8C"/><circle cx="288.7" cy="85.8" r="2.1" fill="#E75E2E"/><circle cx="372.9" cy="85.8" r="2.1" fill="#8C8C8C"/><circle cx="336.9" cy="86.1" r="2.1" fill="#AB2F5E"/><circle cx="348.8" cy="85.9" r="2.1" fill="#8C8C8C"/><circle cx="351.6" cy="88.0" r="2.1" fill="#E05536"/><circle cx="313.6" cy="80.2" r="2.1" fill="#7C1D6D"/><circle cx="362.6" cy="88.1" r="2.1" fill="#A02A63"/><circle cx="276.4" cy="84.7" r="2.1" fill="#EE6A24"/><circle cx="326.8" cy="81.8" r="2.1" fill="#B73557"/><circle cx="320.4" cy="95.6" r="2.1" fill="#B73557"/><circle cx="283.7" cy="82.6" r="2.1" fill="#E05536"/><circle cx="285.3" cy="87.8" r="2.1" fill="#E75E2E"/><circle cx="380.6" cy="85.6" r="2.1" fill="#E05536"/><circle cx="345.5" cy="87.8" r="2.1" fill="#E35933"/><circle cx="358.5" cy="88.6" r="2.1" fill="#8C8C8C"/><circle cx="393.6" cy="83.8" r="2.1" fill="#AB2F5E"/><circle cx="382.3" cy="83.8" r="2.1" fill="#CC4248"/><circle cx="373.9" cy="87.3" r="2.1" fill="#E05536"/><circle cx="409.8" cy="83.6" r="2.1" fill="#E05536"/><circle cx="394.4" cy="86.7" r="2.1" fill="#87216B"/><circle cx="317.8" cy="88.1" r="2.1" fill="#8C8C8C"/><circle cx="422.0" cy="83.8" r="2.1" fill="#E05536"/><circle cx="291.2" cy="84.7" r="2.1" fill="#7C1D6D"/><circle cx="369.0" cy="85.5" r="2.1" fill="#8C8C8C"/><circle cx="298.6" cy="89.8" r="2.1" fill="#B73557"/><circle cx="415.3" cy="86.0" r="2.1" fill="#A02A63"/><circle cx="411.9" cy="86.4" r="2.1" fill="#B73557"/><circle cx="391.1" cy="84.5" r="2.1" fill="#A02A63"/><circle cx="359.4" cy="86.1" r="2.1" fill="#8C8C8C"/><circle cx="326.4" cy="91.5" r="2.1" fill="#E05536"/><circle cx="434.1" cy="84.9" r="2.1" fill="#B73557"/><circle cx="304.2" cy="82.5" r="2.1" fill="#D74B3F"/><circle cx="344.8" cy="84.3" r="2.1" fill="#CC4248"/><circle cx="288.7" cy="88.4" r="2.1" fill="#E75E2E"/><circle cx="430.8" cy="86.0" r="2.1" fill="#CC4248"/><circle cx="429.1" cy="84.2" r="2.1" fill="#A02A63"/><circle cx="418.3" cy="87.5" r="2.1" fill="#E05536"/><circle cx="282.2" cy="85.8" r="2.1" fill="#E75E2E"/><circle cx="322.9" cy="86.2" r="2.1" fill="#B73557"/><circle cx="361.4" cy="88.4" r="2.1" fill="#7C1D6D"/><circle cx="407.7" cy="86.5" r="2.1" fill="#A02A63"/><circle cx="337.3" cy="83.6" r="2.1" fill="#8C8C8C"/><circle cx="383.6" cy="85.2" r="2.1" fill="#E05536"/><circle cx="383.6" cy="85.6" r="2.1" fill="#E35933"/><circle cx="340.6" cy="85.5" r="2.1" fill="#8C8C8C"/><circle cx="365.0" cy="85.9" r="2.1" fill="#CC4248"/><circle cx="430.1" cy="85.4" r="2.1" fill="#87216B"/><circle cx="398.3" cy="87.3" r="2.1" fill="#8C8C8C"/><circle cx="329.9" cy="86.1" r="2.1" fill="#E05536"/><circle cx="289.4" cy="84.5" r="2.1" fill="#E75E2E"/><circle cx="432.3" cy="86.9" r="2.1" fill="#7C1D6D"/><circle cx="302.8" cy="87.7" r="2.1" fill="#B73557"/><circle cx="385.8" cy="87.0" r="2.1" fill="#7C1D6D"/><circle cx="417.8" cy="85.1" r="2.1" fill="#D74B3F"/><circle cx="359.0" cy="87.5" r="2.1" fill="#CC4248"/><circle cx="355.9" cy="83.3" r="2.1" fill="#D74B3F"/><circle cx="284.2" cy="85.9" r="2.1" fill="#EE6A24"/><circle cx="331.5" cy="94.2" r="2.1" fill="#8C8C8C"/><circle cx="391.1" cy="86.4" r="2.1" fill="#E05536"/><circle cx="401.5" cy="84.6" r="2.1" fill="#8C8C8C"/><circle cx="363.7" cy="87.8" r="2.1" fill="#A02A63"/><circle cx="410.3" cy="85.9" r="2.1" fill="#8C8C8C"/><circle cx="279.3" cy="83.7" r="2.1" fill="#E05536"/><circle cx="366.0" cy="87.5" r="2.1" fill="#7C1D6D"/><circle cx="357.5" cy="83.1" r="2.1" fill="#CC4248"/><circle cx="340.8" cy="81.2" r="2.1" fill="#D74B3F"/><circle cx="358.1" cy="85.5" r="2.1" fill="#E05536"/><circle cx="290.6" cy="82.8" r="2.1" fill="#7C1D6D"/><circle cx="353.6" cy="85.2" r="2.1" fill="#A02A63"/><circle cx="404.6" cy="83.4" r="2.1" fill="#E05536"/><circle cx="384.9" cy="85.8" r="2.1" fill="#D74B3F"/><circle cx="389.9" cy="84.8" r="2.1" fill="#D74B3F"/><circle cx="279.8" cy="86.2" r="2.1" fill="#E05536"/><circle cx="284.7" cy="83.6" r="2.1" fill="#E05536"/><circle cx="336.7" cy="79.3" r="2.1" fill="#A02A63"/><circle cx="368.5" cy="87.9" r="2.1" fill="#87216B"/><circle cx="283.3" cy="83.9" r="2.1" fill="#EE6A24"/><circle cx="281.6" cy="87.9" r="2.1" fill="#EE6A24"/><circle cx="325.3" cy="94.0" r="2.1" fill="#E05536"/><circle cx="348.0" cy="84.7" r="2.1" fill="#B73557"/><circle cx="429.4" cy="85.5" r="2.1" fill="#E35933"/><circle cx="313.7" cy="83.4" r="2.1" fill="#8C8C8C"/><circle cx="368.8" cy="85.0" r="2.1" fill="#A02A63"/><circle cx="415.7" cy="85.4" r="2.1" fill="#EB6628"/><circle cx="414.5" cy="83.6" r="2.1" fill="#D74B3F"/><circle cx="332.3" cy="80.2" r="2.1" fill="#B73557"/><circle cx="338.4" cy="83.7" r="2.1" fill="#AB2F5E"/><circle cx="360.6" cy="84.8" r="2.1" fill="#A02A63"/><circle cx="379.6" cy="87.7" r="2.1" fill="#A02A63"/><circle cx="407.7" cy="84.8" r="2.1" fill="#CC4248"/><circle cx="337.0" cy="85.0" r="2.1" fill="#AB2F5E"/><circle cx="312.8" cy="76.8" r="2.1" fill="#8C8C8C"/><circle cx="278.6" cy="87.1" r="2.1" fill="#EE6A24"/><circle cx="388.4" cy="83.5" r="2.1" fill="#B73557"/><circle cx="362.4" cy="87.1" r="2.1" fill="#7C1D6D"/><circle cx="346.0" cy="88.7" r="2.1" fill="#EB6628"/><circle cx="313.2" cy="83.0" r="2.1" fill="#CC4248"/><circle cx="391.0" cy="84.9" r="2.1" fill="#8C8C8C"/><circle cx="308.1" cy="93.1" r="2.1" fill="#7C1D6D"/><circle cx="307.5" cy="91.5" r="2.1" fill="#8C8C8C"/><circle cx="295.6" cy="87.8" r="2.1" fill="#B73557"/><circle cx="370.6" cy="85.2" r="2.1" fill="#AB2F5E"/><circle cx="360.7" cy="84.9" r="2.1" fill="#7C1D6D"/><circle cx="308.8" cy="91.9" r="2.1" fill="#E35933"/><circle cx="383.8" cy="83.5" r="2.1" fill="#E05536"/><circle cx="318.1" cy="91.0" r="2.1" fill="#A02A63"/><circle cx="279.1" cy="86.6" r="2.1" fill="#EE6A24"/><circle cx="324.6" cy="83.1" r="2.1" fill="#E35933"/><circle cx="386.5" cy="86.8" r="2.1" fill="#CC4248"/><circle cx="326.3" cy="88.9" r="2.1" fill="#E35933"/><circle cx="285.5" cy="88.1" r="2.1" fill="#E05536"/><circle cx="396.8" cy="84.0" r="2.1" fill="#8C8C8C"/><circle cx="324.7" cy="79.6" r="2.1" fill="#D74B3F"/><circle cx="406.3" cy="85.0" r="2.1" fill="#AB2F5E"/><circle cx="339.6" cy="90.4" r="2.1" fill="#EB6628"/><circle cx="375.8" cy="86.1" r="2.1" fill="#E05536"/><circle cx="295.8" cy="83.0" r="2.1" fill="#E05536"/><circle cx="333.6" cy="90.2" r="2.1" fill="#8C8C8C"/><circle cx="331.2" cy="83.9" r="2.1" fill="#8C8C8C"/><circle cx="388.0" cy="85.3" r="2.1" fill="#E05536"/><circle cx="339.1" cy="90.5" r="2.1" fill="#E35933"/><circle cx="303.8" cy="79.7" r="2.1" fill="#8C8C8C"/><circle cx="392.9" cy="86.5" r="2.1" fill="#E05536"/><circle cx="339.8" cy="86.8" r="2.1" fill="#A02A63"/><circle cx="306.5" cy="82.3" r="2.1" fill="#A02A63"/><circle cx="393.6" cy="85.7" r="2.1" fill="#8C8C8C"/><circle cx="377.5" cy="83.9" r="2.1" fill="#E05536"/><circle cx="311.2" cy="85.4" r="2.1" fill="#7C1D6D"/><circle cx="315.6" cy="84.2" r="2.1" fill="#8C8C8C"/><circle cx="367.3" cy="87.8" r="2.1" fill="#E35933"/><circle cx="409.1" cy="86.7" r="2.1" fill="#B73557"/><circle cx="419.8" cy="87.2" r="2.1" fill="#8C8C8C"/><circle cx="372.5" cy="83.1" r="2.1" fill="#CC4248"/><circle cx="384.4" cy="83.3" r="2.1" fill="#AB2F5E"/><circle cx="308.4" cy="92.5" r="2.1" fill="#8C8C8C"/><circle cx="421.9" cy="85.1" r="2.1" fill="#8C8C8C"/><circle cx="338.0" cy="88.7" r="2.1" fill="#E05536"/><circle cx="310.1" cy="86.0" r="2.1" fill="#AB2F5E"/><circle cx="427.1" cy="85.1" r="2.1" fill="#AB2F5E"/><circle cx="386.1" cy="86.6" r="2.1" fill="#E05536"/><circle cx="409.8" cy="86.1" r="2.1" fill="#7C1D6D"/><circle cx="283.3" cy="86.6" r="2.1" fill="#E75E2E"/><circle cx="383.1" cy="87.1" r="2.1" fill="#EB6628"/><circle cx="295.1" cy="88.3" r="2.1" fill="#E05536"/><circle cx="428.1" cy="86.9" r="2.1" fill="#7C1D6D"/><circle cx="316.6" cy="86.4" r="2.1" fill="#EB6628"/><circle cx="377.3" cy="85.7" r="2.1" fill="#CC4248"/><circle cx="429.9" cy="84.0" r="2.1" fill="#AB2F5E"/><circle cx="340.9" cy="82.1" r="2.1" fill="#B73557"/><circle cx="296.6" cy="87.6" r="2.1" fill="#87216B"/><circle cx="382.6" cy="84.2" r="2.1" fill="#CC4248"/><circle cx="275.4" cy="86.4" r="2.1" fill="#EE6A24"/></g>
<circle cx="442.0" cy="85.5" r="2.2" fill="#E45A31"/>
<circle cx="459.6" cy="85.5" r="2.2" fill="#E45A31"/>
<path d="M310.8 108.0 C310.9 107.7 311.1 106.6 311.6 106.2 C312.0 105.8 312.9 105.7 313.3 105.5 C313.7 105.4 313.6 105.5 313.8 105.4 C314.1 105.4 314.5 105.3 314.8 105.2 C315.1 105.1 315.5 104.9 315.8 104.6 C316.1 104.3 316.5 104.0 316.8 103.5 C317.1 103.1 317.5 102.5 317.8 102.0 C318.1 101.4 318.5 100.7 318.8 100.2 C319.1 99.6 319.5 99.0 319.8 98.6 C320.1 98.1 320.5 97.8 320.8 97.5 C321.1 97.2 321.5 97.0 321.8 96.9 C322.1 96.8 322.5 96.8 322.8 96.7 C323.1 96.7 323.5 96.7 323.8 96.8 C324.1 96.9 324.5 97.1 324.8 97.4 C325.1 97.7 325.5 98.2 325.8 98.6 C326.1 99.1 326.5 99.7 326.8 100.3 C327.1 100.8 327.5 101.4 327.8 101.9 C328.1 102.4 328.4 102.7 328.8 103.3 C329.2 103.9 329.6 105.0 330.1 105.5 C330.6 106.0 331.4 105.8 331.9 106.2 C332.3 106.6 332.5 107.7 332.6 108.0 L332.6 108.0 C332.5 108.3 332.3 109.4 331.9 109.8 C331.4 110.2 330.6 110.0 330.1 110.5 C329.6 111.0 329.2 112.1 328.8 112.7 C328.4 113.3 328.1 113.6 327.8 114.1 C327.5 114.6 327.1 115.2 326.8 115.8 C326.5 116.3 326.1 116.9 325.8 117.4 C325.5 117.9 325.1 118.4 324.8 118.7 C324.5 119.0 324.1 119.2 323.8 119.3 C323.5 119.4 323.1 119.3 322.8 119.3 C322.5 119.3 322.1 119.3 321.8 119.1 C321.5 119.0 321.1 118.9 320.8 118.6 C320.5 118.3 320.1 117.9 319.8 117.5 C319.5 117.0 319.1 116.4 318.8 115.9 C318.5 115.3 318.1 114.7 317.8 114.1 C317.5 113.6 317.1 113.0 316.8 112.5 C316.5 112.1 316.1 111.7 315.8 111.5 C315.5 111.2 315.1 111.0 314.8 110.9 C314.5 110.7 314.1 110.7 313.8 110.6 C313.6 110.6 313.7 110.7 313.3 110.5 C312.9 110.4 312.0 110.2 311.6 109.8 C311.1 109.4 310.9 108.3 310.8 108.0 Z" fill="#57106E" stroke="#57106E" stroke-width="0.8" stroke-linejoin="round"/>
<g fill="#57106E"><circle cx="316.7" cy="105.0" r="1.9"/><circle cx="317.2" cy="110.9" r="1.9"/><circle cx="319.8" cy="99.5" r="1.9"/><circle cx="320.0" cy="116.5" r="1.9"/><circle cx="322.9" cy="98.1" r="1.9"/><circle cx="322.7" cy="118.1" r="1.9"/><circle cx="325.8" cy="100.9" r="1.9"/><circle cx="326.1" cy="115.1" r="1.9"/><circle cx="328.6" cy="105.0" r="1.9"/><circle cx="329.1" cy="111.2" r="1.9"/></g>
<path d="M334.5 107.9 C334.6 107.7 334.8 106.7 335.2 106.3 C335.5 106.0 336.3 105.9 336.7 105.7 C337.1 105.5 337.2 105.3 337.5 105.2 C337.8 105.1 338.2 105.2 338.5 105.1 C338.8 105.1 339.2 105.0 339.5 105.0 C339.8 105.0 340.2 104.9 340.5 104.9 C340.8 104.8 341.2 104.8 341.5 104.7 C341.8 104.7 342.2 104.6 342.5 104.6 C342.8 104.6 343.2 104.5 343.5 104.5 C343.8 104.4 344.2 104.4 344.5 104.3 C344.8 104.3 345.2 104.2 345.5 104.2 C345.8 104.2 346.2 104.1 346.5 104.1 C346.8 104.1 347.2 104.0 347.5 104.0 C347.8 104.0 348.2 104.0 348.5 104.0 C348.8 103.9 349.2 103.9 349.5 103.9 C349.8 103.9 350.2 103.9 350.5 103.9 C350.8 103.9 351.2 103.9 351.5 104.0 C351.8 104.0 352.2 104.0 352.5 104.0 C352.8 104.0 353.2 104.0 353.5 104.1 C353.8 104.1 354.2 104.1 354.5 104.2 C354.8 104.2 355.2 104.2 355.5 104.3 C355.8 104.3 356.2 104.3 356.5 104.4 C356.8 104.4 357.2 104.5 357.5 104.5 C357.8 104.6 358.2 104.6 358.5 104.6 C358.8 104.7 359.2 104.7 359.5 104.8 C359.8 104.8 360.2 104.9 360.5 104.9 C360.8 104.9 361.2 105.0 361.5 105.0 C361.8 105.0 362.2 105.1 362.5 105.1 C362.8 105.2 363.2 105.2 363.5 105.2 C363.8 105.3 364.2 105.3 364.5 105.3 C364.8 105.3 365.2 105.4 365.5 105.4 C365.8 105.4 366.2 105.4 366.5 105.5 C366.8 105.5 367.2 105.5 367.5 105.5 C367.8 105.5 368.2 105.5 368.5 105.6 C368.8 105.6 369.2 105.6 369.5 105.6 C369.8 105.6 370.1 105.6 370.5 105.7 C370.9 105.9 371.7 106.0 372.0 106.3 C372.4 106.7 372.6 107.7 372.7 107.9 L372.7 107.9 C372.6 108.2 372.4 109.1 372.0 109.5 C371.7 109.9 370.9 110.0 370.5 110.1 C370.1 110.3 369.8 110.2 369.5 110.3 C369.2 110.3 368.8 110.3 368.5 110.3 C368.2 110.3 367.8 110.3 367.5 110.3 C367.2 110.4 366.8 110.4 366.5 110.4 C366.2 110.4 365.8 110.4 365.5 110.5 C365.2 110.5 364.8 110.5 364.5 110.5 C364.2 110.6 363.8 110.6 363.5 110.6 C363.2 110.7 362.8 110.7 362.5 110.7 C362.2 110.8 361.8 110.8 361.5 110.8 C361.2 110.9 360.8 110.9 360.5 111.0 C360.2 111.0 359.8 111.0 359.5 111.1 C359.2 111.1 358.8 111.2 358.5 111.2 C358.2 111.3 357.8 111.3 357.5 111.3 C357.2 111.4 356.8 111.4 356.5 111.5 C356.2 111.5 355.8 111.6 355.5 111.6 C355.2 111.6 354.8 111.7 354.5 111.7 C354.2 111.7 353.8 111.8 353.5 111.8 C353.2 111.8 352.8 111.8 352.5 111.9 C352.2 111.9 351.8 111.9 351.5 111.9 C351.2 111.9 350.8 111.9 350.5 111.9 C350.2 111.9 349.8 111.9 349.5 111.9 C349.2 111.9 348.8 111.9 348.5 111.9 C348.2 111.9 347.8 111.9 347.5 111.8 C347.2 111.8 346.8 111.8 346.5 111.8 C346.2 111.7 345.8 111.7 345.5 111.7 C345.2 111.6 344.8 111.6 344.5 111.5 C344.2 111.5 343.8 111.4 343.5 111.4 C343.2 111.4 342.8 111.3 342.5 111.3 C342.2 111.2 341.8 111.2 341.5 111.1 C341.2 111.1 340.8 111.0 340.5 111.0 C340.2 110.9 339.8 110.9 339.5 110.9 C339.2 110.8 338.8 110.8 338.5 110.7 C338.2 110.7 337.8 110.7 337.5 110.6 C337.2 110.5 337.1 110.3 336.7 110.1 C336.3 109.9 335.5 109.9 335.2 109.5 C334.8 109.1 334.6 108.2 334.5 107.9 Z" fill="#FBBE23" stroke="#FBBE23" stroke-width="0.8" stroke-linejoin="round"/>
<g fill="#FBBE23"><circle cx="342.9" cy="106.2" r="1.9"/><circle cx="342.6" cy="109.5" r="1.9"/><circle cx="346.8" cy="105.8" r="1.9"/><circle cx="346.8" cy="110.7" r="1.9"/><circle cx="349.4" cy="105.3" r="1.9"/><circle cx="349.7" cy="110.3" r="1.9"/><circle cx="352.4" cy="105.1" r="1.9"/><circle cx="353.0" cy="110.5" r="1.9"/><circle cx="356.6" cy="106.0" r="1.9"/><circle cx="356.2" cy="109.8" r="1.9"/><circle cx="359.3" cy="105.8" r="1.9"/><circle cx="358.9" cy="109.5" r="1.9"/></g>
<circle cx="377.8" cy="107.9" r="2.2" fill="#FBBE23"/>
<path d="M304.9 131.2 C305.0 131.0 305.1 130.3 305.4 130.0 C305.6 129.8 306.2 129.8 306.5 129.6 C306.8 129.4 306.4 129.0 307.0 128.8 C307.6 128.6 308.8 128.5 309.8 128.2 C310.8 127.9 311.9 127.5 313.0 127.1 C314.1 126.7 315.1 126.6 316.4 125.9 C317.6 125.2 319.5 123.8 320.5 123.0 C321.5 122.2 321.8 121.8 322.5 121.3 C323.2 120.8 323.8 120.3 324.5 120.2 C325.2 120.1 325.8 120.5 326.5 120.9 C327.2 121.3 328.1 121.4 328.6 122.6 C329.2 123.8 329.2 126.9 329.8 128.0 C330.4 129.0 331.5 128.3 332.0 128.9 C332.6 129.4 332.8 130.8 333.0 131.2 L333.0 131.2 C332.8 131.6 332.6 133.0 332.0 133.5 C331.5 134.0 330.4 133.3 329.8 134.4 C329.2 135.4 329.2 138.6 328.6 139.8 C328.1 141.0 327.2 141.1 326.5 141.5 C325.8 141.9 325.2 142.3 324.5 142.2 C323.8 142.1 323.2 141.6 322.5 141.1 C321.8 140.6 321.5 140.2 320.5 139.4 C319.5 138.6 317.6 137.2 316.4 136.5 C315.1 135.8 314.1 135.7 313.0 135.3 C311.9 134.9 310.8 134.5 309.8 134.2 C308.8 133.9 307.6 133.8 307.0 133.6 C306.4 133.4 306.8 133.0 306.5 132.8 C306.2 132.6 305.6 132.6 305.4 132.3 C305.1 132.1 305.0 131.4 304.9 131.2 Z" fill="#FBBE23" stroke="#FBBE23" stroke-width="0.8" stroke-linejoin="round"/>
<g fill="#FBBE23"><circle cx="311.1" cy="129.1" r="1.9"/><circle cx="310.6" cy="132.9" r="1.9"/><circle cx="314.0" cy="128.2" r="1.9"/><circle cx="314.3" cy="134.2" r="1.9"/><circle cx="317.4" cy="126.8" r="1.9"/><circle cx="317.7" cy="136.1" r="1.9"/><circle cx="321.3" cy="123.6" r="1.9"/><circle cx="321.5" cy="138.5" r="1.9"/><circle cx="323.8" cy="121.9" r="1.9"/><circle cx="324.2" cy="140.3" r="1.9"/><circle cx="327.1" cy="123.1" r="1.9"/><circle cx="327.9" cy="139.0" r="1.9"/><circle cx="330.0" cy="126.2" r="1.9"/><circle cx="330.3" cy="136.1" r="1.9"/></g>
<path d="M313.5 130.9 C313.6 130.7 313.7 130.1 313.9 129.8 C314.2 129.6 314.3 129.8 315.0 129.4 C315.7 129.0 317.0 127.8 318.0 127.4 C319.0 127.0 320.2 127.4 321.0 127.1 C321.8 126.8 322.3 126.0 323.0 125.4 C323.7 124.8 324.3 123.9 325.0 123.5 C325.7 123.0 326.3 122.8 327.0 122.7 C327.7 122.6 328.3 122.8 329.0 123.1 C329.7 123.4 330.6 123.7 331.0 124.6 C331.4 125.5 331.1 127.6 331.5 128.4 C331.9 129.1 332.8 128.7 333.2 129.1 C333.7 129.5 333.9 130.6 334.0 130.9 L334.0 130.9 C333.9 131.2 333.7 132.3 333.2 132.7 C332.8 133.1 331.9 132.6 331.5 133.4 C331.1 134.1 331.4 136.3 331.0 137.2 C330.6 138.1 329.7 138.4 329.0 138.7 C328.3 139.0 327.7 139.2 327.0 139.1 C326.3 139.0 325.7 138.7 325.0 138.3 C324.3 137.8 323.7 137.0 323.0 136.4 C322.3 135.8 321.8 135.0 321.0 134.7 C320.2 134.4 319.0 134.8 318.0 134.4 C317.0 134.0 315.7 132.8 315.0 132.4 C314.3 132.0 314.2 132.2 313.9 132.0 C313.7 131.7 313.6 131.1 313.5 130.9 Z" fill="#8C8C8C" stroke="#8C8C8C" stroke-width="0.5" stroke-linejoin="round"/>
<g fill="#8C8C8C"><circle cx="319.7" cy="128.7" r="1.9"/><circle cx="319.2" cy="133.3" r="1.9"/><circle cx="322.5" cy="127.3" r="1.9"/><circle cx="322.5" cy="134.8" r="1.9"/><circle cx="326.4" cy="124.8" r="1.9"/><circle cx="325.8" cy="137.2" r="1.9"/><circle cx="329.0" cy="124.8" r="1.9"/><circle cx="328.7" cy="137.0" r="1.9"/></g>
<circle cx="321.3" cy="130.9" r="1.5" fill="#FBBE23"/>
<circle cx="318.5" cy="133.8" r="1.3" fill="#FBBE23"/>
<circle cx="316.0" cy="128.8" r="1.1" fill="#FBBE23"/>
<circle cx="326.5" cy="124.0" r="1.3" fill="#FBBE23"/>
<path d="M332.5 131.2 C332.6 130.8 332.9 129.5 333.4 129.0 C333.9 128.5 332.7 128.3 335.5 128.2 C338.3 128.0 344.2 128.2 350.0 128.2 C355.8 128.2 364.1 128.2 370.0 128.2 C375.9 128.2 382.2 128.1 385.1 128.3 C388.0 128.4 386.6 128.6 387.1 129.1 C387.6 129.6 387.9 130.8 388.0 131.2 L388.0 131.2 C387.9 131.5 387.6 132.8 387.1 133.3 C386.6 133.8 388.0 133.9 385.1 134.1 C382.2 134.2 375.9 134.2 370.0 134.2 C364.1 134.2 355.8 134.2 350.0 134.2 C344.2 134.2 338.3 134.3 335.5 134.2 C332.7 134.0 333.9 133.8 333.4 133.3 C332.9 132.8 332.6 131.5 332.5 131.2 Z" fill="url(#g5)" stroke="url(#g5)" stroke-width="0.8" stroke-linejoin="round"/>
<g clip-path="url(#c6)"><circle cx="351.6" cy="133.5" r="2.1" fill="#F37819"/><circle cx="379.6" cy="129.5" r="2.1" fill="#F78410"/><circle cx="357.3" cy="128.7" r="2.1" fill="#FA9207"/><circle cx="364.6" cy="131.5" r="2.1" fill="#EE6A24"/><circle cx="352.5" cy="129.6" r="2.1" fill="#EE6A24"/><circle cx="354.5" cy="128.9" r="2.1" fill="#FA9207"/><circle cx="386.3" cy="129.5" r="2.1" fill="#F78410"/><circle cx="338.7" cy="133.4" r="2.1" fill="#FCAE12"/><circle cx="368.6" cy="129.3" r="2.1" fill="#F78410"/><circle cx="346.5" cy="131.1" r="2.1" fill="#6F196E"/><circle cx="357.9" cy="131.4" r="2.1" fill="#FA9207"/><circle cx="338.8" cy="131.3" r="2.1" fill="#6F196E"/><circle cx="364.0" cy="133.3" r="2.1" fill="#FA9207"/><circle cx="336.6" cy="130.8" r="2.1" fill="#FCA108"/><circle cx="360.4" cy="131.2" r="2.1" fill="#FCA108"/><circle cx="374.5" cy="128.9" r="2.1" fill="#F78410"/><circle cx="361.1" cy="130.9" r="2.1" fill="#FA9207"/><circle cx="354.3" cy="129.2" r="2.1" fill="#FA9207"/><circle cx="363.7" cy="132.8" r="2.1" fill="#FA9207"/><circle cx="353.2" cy="131.9" r="2.1" fill="#EE6A24"/><circle cx="345.6" cy="130.4" r="2.1" fill="#F37819"/><circle cx="371.5" cy="133.9" r="2.1" fill="#EE6A24"/><circle cx="349.1" cy="132.4" r="2.1" fill="#EE6A24"/><circle cx="382.9" cy="128.8" r="2.1" fill="#A02A63"/><circle cx="363.7" cy="133.7" r="2.1" fill="#FCA108"/><circle cx="352.2" cy="130.4" r="2.1" fill="#FCA108"/><circle cx="351.4" cy="132.8" r="2.1" fill="#FA9207"/><circle cx="333.1" cy="129.7" r="2.1" fill="#FA9207"/><circle cx="353.2" cy="132.6" r="2.1" fill="#FCAE12"/><circle cx="372.6" cy="128.5" r="2.1" fill="#C33B4F"/><circle cx="352.1" cy="130.3" r="2.1" fill="#FCAE12"/><circle cx="377.1" cy="128.9" r="2.1" fill="#F78410"/><circle cx="346.0" cy="130.3" r="2.1" fill="#FA9207"/><circle cx="357.3" cy="133.2" r="2.1" fill="#6F196E"/><circle cx="356.9" cy="132.9" r="2.1" fill="#EE6A24"/><circle cx="338.6" cy="133.0" r="2.1" fill="#FA9207"/><circle cx="340.8" cy="133.8" r="2.1" fill="#FCA108"/><circle cx="370.6" cy="130.5" r="2.1" fill="#A02A63"/><circle cx="365.2" cy="129.7" r="2.1" fill="#F78410"/><circle cx="374.8" cy="129.8" r="2.1" fill="#EE6A24"/></g>
<path d="M292.7 153.8 C292.8 153.6 293.0 152.5 293.4 152.1 C293.8 151.7 294.5 151.6 295.1 151.4 C295.7 151.3 295.8 151.2 297.0 151.0 C298.2 150.9 300.5 150.8 302.2 150.5 C303.9 150.3 305.4 149.9 307.0 149.6 C308.6 149.4 310.1 149.1 311.6 149.1 C313.1 149.2 314.2 149.4 316.0 149.7 C317.8 150.1 320.5 150.9 322.3 151.1 C324.1 151.4 326.0 151.4 327.0 151.4 C328.0 151.5 327.7 151.4 328.2 151.5 C328.7 151.7 329.4 151.8 329.8 152.2 C330.2 152.6 330.4 153.6 330.5 153.8 L330.5 153.8 C330.4 154.1 330.2 155.1 329.8 155.5 C329.4 155.9 328.7 156.0 328.2 156.1 C327.7 156.3 328.0 156.2 327.0 156.2 C326.0 156.3 324.1 156.3 322.3 156.5 C320.5 156.8 317.8 157.6 316.0 157.9 C314.2 158.3 313.1 158.5 311.6 158.5 C310.1 158.6 308.6 158.3 307.0 158.0 C305.4 157.8 303.9 157.4 302.2 157.1 C300.5 156.9 298.2 156.8 297.0 156.6 C295.8 156.5 295.7 156.4 295.1 156.2 C294.5 156.1 293.8 156.0 293.4 155.6 C293.0 155.2 292.8 154.1 292.7 153.8 Z" fill="#57106E" stroke="#57106E" stroke-width="0.8" stroke-linejoin="round"/>
<g fill="#57106E"><circle cx="303.5" cy="151.4" r="1.9"/><circle cx="303.8" cy="155.6" r="1.9"/><circle cx="306.6" cy="151.0" r="1.9"/><circle cx="306.2" cy="156.5" r="1.9"/><circle cx="309.4" cy="150.9" r="1.9"/><circle cx="309.4" cy="157.0" r="1.9"/><circle cx="311.6" cy="150.8" r="1.9"/><circle cx="312.1" cy="157.2" r="1.9"/><circle cx="314.0" cy="151.0" r="1.9"/><circle cx="314.3" cy="156.8" r="1.9"/><circle cx="317.2" cy="151.8" r="1.9"/><circle cx="317.4" cy="156.1" r="1.9"/><circle cx="319.9" cy="151.6" r="1.9"/><circle cx="319.5" cy="155.4" r="1.9"/></g>
<path d="M328.6 153.8 C328.7 153.5 328.9 152.5 329.4 152.0 C329.8 151.6 330.7 151.9 331.1 151.3 C331.5 150.8 331.4 149.6 331.6 149.0 C331.9 148.3 332.3 147.9 332.6 147.4 C332.9 146.9 333.3 146.3 333.6 145.7 C333.9 145.2 334.3 144.7 334.6 144.3 C334.9 143.9 335.3 143.6 335.6 143.3 C335.9 143.1 336.3 142.9 336.6 142.8 C336.9 142.7 337.3 142.7 337.6 142.7 C337.9 142.6 338.3 142.6 338.6 142.6 C338.9 142.7 339.3 142.7 339.6 142.9 C339.9 143.1 340.3 143.4 340.6 143.8 C340.9 144.3 341.3 145.0 341.6 145.6 C341.9 146.3 342.3 147.2 342.6 147.8 C342.9 148.5 343.2 149.1 343.6 149.7 C344.0 150.3 344.3 151.0 344.8 151.3 C345.3 151.7 346.1 151.6 346.6 152.0 C347.0 152.5 347.2 153.5 347.3 153.8 L347.3 153.8 C347.2 154.1 347.0 155.2 346.6 155.6 C346.1 156.1 345.3 156.0 344.8 156.3 C344.3 156.7 344.0 157.4 343.6 158.0 C343.2 158.5 342.9 159.2 342.6 159.8 C342.3 160.5 341.9 161.4 341.6 162.1 C341.3 162.7 340.9 163.4 340.6 163.8 C340.3 164.3 339.9 164.6 339.6 164.8 C339.3 165.0 338.9 165.0 338.6 165.0 C338.3 165.1 337.9 165.1 337.6 165.0 C337.3 165.0 336.9 165.0 336.6 164.9 C336.3 164.8 335.9 164.6 335.6 164.4 C335.3 164.1 334.9 163.8 334.6 163.4 C334.3 163.0 333.9 162.5 333.6 161.9 C333.3 161.4 332.9 160.8 332.6 160.3 C332.3 159.7 331.9 159.4 331.6 158.7 C331.4 158.1 331.5 156.9 331.1 156.3 C330.7 155.8 329.8 156.1 329.4 155.6 C328.9 155.2 328.7 154.1 328.6 153.8 Z" fill="#FBBE23" stroke="#FBBE23" stroke-width="0.8" stroke-linejoin="round"/>
<g fill="#FBBE23"><circle cx="331.1" cy="151.1" r="1.9"/><circle cx="331.2" cy="156.8" r="1.9"/><circle cx="335.1" cy="146.0" r="1.9"/><circle cx="334.7" cy="162.3" r="1.9"/><circle cx="338.4" cy="143.9" r="1.9"/><circle cx="338.3" cy="163.5" r="1.9"/><circle cx="341.3" cy="145.7" r="1.9"/><circle cx="341.4" cy="161.9" r="1.9"/><circle cx="344.2" cy="151.3" r="1.9"/><circle cx="343.9" cy="156.3" r="1.9"/></g>
<path d="M301.5 176.9 C301.6 176.6 301.8 175.5 302.3 175.0 C302.7 174.6 303.1 174.7 304.1 174.3 C305.1 173.9 306.3 172.9 308.0 172.6 C309.7 172.3 313.0 172.6 314.5 172.4 C316.0 172.1 316.2 171.6 317.0 171.1 C317.8 170.6 318.5 170.1 319.3 169.4 C320.1 168.7 321.1 167.5 322.0 166.9 C322.9 166.3 323.8 165.7 324.6 165.7 C325.4 165.7 326.2 166.3 327.0 166.9 C327.8 167.5 328.5 169.0 329.3 169.4 C330.1 169.8 330.7 169.6 332.0 169.4 C333.3 169.2 335.5 168.5 337.0 168.4 C338.5 168.3 339.6 168.6 341.0 168.9 C342.4 169.2 344.0 169.9 345.3 170.4 C346.6 170.9 347.6 171.4 349.0 171.9 C350.4 172.4 352.2 173.0 353.5 173.4 C354.8 173.8 356.2 173.9 357.0 174.1 C357.8 174.3 357.7 174.3 358.2 174.5 C358.7 174.7 359.5 174.8 359.9 175.2 C360.3 175.6 360.5 176.6 360.6 176.9 L360.6 176.9 C360.5 177.2 360.3 178.2 359.9 178.6 C359.5 179.0 358.7 179.1 358.2 179.3 C357.7 179.5 357.8 179.5 357.0 179.7 C356.2 179.9 354.8 180.0 353.5 180.4 C352.2 180.8 350.4 181.4 349.0 181.9 C347.6 182.4 346.6 182.9 345.3 183.4 C344.0 183.9 342.4 184.6 341.0 184.9 C339.6 185.2 338.5 185.5 337.0 185.4 C335.5 185.3 333.3 184.6 332.0 184.4 C330.7 184.2 330.1 184.0 329.3 184.4 C328.5 184.8 327.8 186.3 327.0 186.9 C326.2 187.5 325.4 188.1 324.6 188.1 C323.8 188.1 322.9 187.5 322.0 186.9 C321.1 186.3 320.1 185.1 319.3 184.4 C318.5 183.7 317.8 183.2 317.0 182.7 C316.2 182.2 316.0 181.6 314.5 181.4 C313.0 181.1 309.7 181.5 308.0 181.2 C306.3 180.9 305.1 179.9 304.1 179.5 C303.1 179.1 302.7 179.2 302.3 178.8 C301.8 178.3 301.6 177.2 301.5 176.9 Z" fill="url(#g7)" stroke="url(#g7)" stroke-width="0.8" stroke-linejoin="round"/>
<g fill="url(#g7)"><circle cx="304.1" cy="174.6" r="1.9"/><circle cx="303.6" cy="179.2" r="1.9"/><circle cx="307.4" cy="174.1" r="1.9"/><circle cx="306.8" cy="179.5" r="1.9"/><circle cx="309.6" cy="174.2" r="1.9"/><circle cx="309.3" cy="180.1" r="1.9"/><circle cx="312.8" cy="173.8" r="1.9"/><circle cx="312.6" cy="179.7" r="1.9"/><circle cx="315.3" cy="173.4" r="1.9"/><circle cx="315.7" cy="180.5" r="1.9"/><circle cx="318.9" cy="170.7" r="1.9"/><circle cx="319.1" cy="182.5" r="1.9"/><circle cx="321.9" cy="168.1" r="1.9"/><circle cx="321.7" cy="185.5" r="1.9"/><circle cx="325.2" cy="167.6" r="1.9"/><circle cx="324.8" cy="186.9" r="1.9"/><circle cx="327.5" cy="169.4" r="1.9"/><circle cx="327.4" cy="184.6" r="1.9"/><circle cx="330.7" cy="170.9" r="1.9"/><circle cx="330.7" cy="183.1" r="1.9"/><circle cx="334.6" cy="170.5" r="1.9"/><circle cx="334.7" cy="183.9" r="1.9"/><circle cx="337.2" cy="169.6" r="1.9"/><circle cx="338.0" cy="183.8" r="1.9"/><circle cx="340.1" cy="170.2" r="1.9"/><circle cx="340.8" cy="183.7" r="1.9"/><circle cx="343.6" cy="171.5" r="1.9"/><circle cx="344.2" cy="182.6" r="1.9"/><circle cx="347.1" cy="172.6" r="1.9"/><circle cx="346.5" cy="181.3" r="1.9"/><circle cx="349.7" cy="173.6" r="1.9"/><circle cx="349.6" cy="180.4" r="1.9"/><circle cx="352.4" cy="174.8" r="1.9"/><circle cx="352.9" cy="179.4" r="1.9"/></g>
<g clip-path="url(#c8)"><circle cx="337.8" cy="180.7" r="2.1" fill="#A02A63"/><circle cx="351.2" cy="175.7" r="2.1" fill="#87216B"/><circle cx="326.5" cy="177.7" r="2.1" fill="#E35933"/><circle cx="352.7" cy="174.3" r="2.1" fill="#AB2F5E"/><circle cx="335.5" cy="172.5" r="2.1" fill="#D74B3F"/><circle cx="346.6" cy="180.2" r="2.1" fill="#A02A63"/><circle cx="340.0" cy="177.7" r="2.1" fill="#7C1D6D"/><circle cx="334.6" cy="174.7" r="2.1" fill="#D74B3F"/><circle cx="357.1" cy="174.8" r="2.1" fill="#A02A63"/><circle cx="334.5" cy="170.5" r="2.1" fill="#A02A63"/><circle cx="325.2" cy="187.3" r="2.1" fill="#E05536"/><circle cx="338.4" cy="170.6" r="2.1" fill="#D74B3F"/><circle cx="331.2" cy="177.7" r="2.1" fill="#B73557"/><circle cx="345.1" cy="182.2" r="2.1" fill="#B73557"/><circle cx="332.7" cy="174.6" r="2.1" fill="#B73557"/><circle cx="327.6" cy="183.6" r="2.1" fill="#E05536"/><circle cx="339.1" cy="174.3" r="2.1" fill="#7C1D6D"/><circle cx="328.7" cy="174.0" r="2.1" fill="#E05536"/><circle cx="325.2" cy="184.8" r="2.1" fill="#E05536"/><circle cx="355.1" cy="176.1" r="2.1" fill="#AB2F5E"/><circle cx="338.6" cy="172.3" r="2.1" fill="#A02A63"/><circle cx="320.8" cy="175.6" r="2.1" fill="#D74B3F"/><circle cx="319.1" cy="184.2" r="2.1" fill="#E05536"/><circle cx="359.5" cy="178.4" r="2.1" fill="#87216B"/><circle cx="352.5" cy="179.7" r="2.1" fill="#87216B"/><circle cx="357.9" cy="174.9" r="2.1" fill="#87216B"/><circle cx="318.2" cy="174.6" r="2.1" fill="#D74B3F"/><circle cx="353.0" cy="175.1" r="2.1" fill="#87216B"/><circle cx="341.9" cy="178.4" r="2.1" fill="#7C1D6D"/><circle cx="347.7" cy="180.8" r="2.1" fill="#A02A63"/><circle cx="327.4" cy="175.7" r="2.1" fill="#E05536"/><circle cx="360.3" cy="175.9" r="2.1" fill="#A02A63"/><circle cx="349.1" cy="173.4" r="2.1" fill="#A02A63"/><circle cx="331.2" cy="174.7" r="2.1" fill="#B73557"/><circle cx="329.0" cy="175.3" r="2.1" fill="#D74B3F"/><circle cx="321.6" cy="184.9" r="2.1" fill="#E35933"/><circle cx="324.9" cy="173.3" r="2.1" fill="#E05536"/><circle cx="336.1" cy="171.9" r="2.1" fill="#CC4248"/><circle cx="360.1" cy="176.0" r="2.1" fill="#A02A63"/><circle cx="331.1" cy="171.1" r="2.1" fill="#A02A63"/><circle cx="351.1" cy="180.8" r="2.1" fill="#A02A63"/><circle cx="322.2" cy="171.2" r="2.1" fill="#E05536"/><circle cx="344.7" cy="173.9" r="2.1" fill="#B73557"/><circle cx="358.6" cy="175.3" r="2.1" fill="#A02A63"/><circle cx="325.6" cy="178.1" r="2.1" fill="#D74B3F"/><circle cx="318.2" cy="174.6" r="2.1" fill="#D74B3F"/><circle cx="359.6" cy="178.8" r="2.1" fill="#AB2F5E"/><circle cx="333.4" cy="175.1" r="2.1" fill="#B73557"/><circle cx="324.4" cy="174.4" r="2.1" fill="#D74B3F"/><circle cx="349.0" cy="180.9" r="2.1" fill="#AB2F5E"/><circle cx="356.2" cy="175.5" r="2.1" fill="#AB2F5E"/><circle cx="344.6" cy="183.5" r="2.1" fill="#B73557"/><circle cx="340.7" cy="170.3" r="2.1" fill="#D74B3F"/><circle cx="347.8" cy="181.4" r="2.1" fill="#CC4248"/><circle cx="325.5" cy="178.2" r="2.1" fill="#E35933"/><circle cx="339.7" cy="177.7" r="2.1" fill="#A02A63"/><circle cx="328.4" cy="178.2" r="2.1" fill="#D74B3F"/><circle cx="345.6" cy="181.4" r="2.1" fill="#D74B3F"/><circle cx="321.7" cy="177.8" r="2.1" fill="#D74B3F"/><circle cx="345.4" cy="175.3" r="2.1" fill="#CC4248"/><circle cx="324.8" cy="177.5" r="2.1" fill="#E35933"/><circle cx="340.5" cy="182.2" r="2.1" fill="#CC4248"/><circle cx="338.7" cy="177.6" r="2.1" fill="#B73557"/><circle cx="356.1" cy="178.5" r="2.1" fill="#87216B"/><circle cx="355.2" cy="176.7" r="2.1" fill="#AB2F5E"/><circle cx="322.1" cy="178.7" r="2.1" fill="#E35933"/><circle cx="356.3" cy="177.1" r="2.1" fill="#AB2F5E"/><circle cx="323.1" cy="180.6" r="2.1" fill="#E05536"/><circle cx="350.1" cy="176.5" r="2.1" fill="#AB2F5E"/><circle cx="357.5" cy="178.9" r="2.1" fill="#AB2F5E"/></g>
<circle cx="315.0" cy="175.4" r="1.6" fill="#8C8C8C"/>
<path d="M286.0 199.3 C286.1 198.9 286.3 197.8 286.8 197.4 C287.2 197.0 288.2 196.8 288.6 196.7 C289.0 196.5 288.8 196.7 289.0 196.7 C289.2 196.7 289.7 196.7 290.0 196.6 C290.3 196.6 290.7 196.6 291.0 196.6 C291.3 196.6 291.7 196.6 292.0 196.5 C292.3 196.5 292.7 196.5 293.0 196.5 C293.3 196.5 293.7 196.4 294.0 196.4 C294.3 196.4 294.7 196.4 295.0 196.4 C295.3 196.4 295.7 196.3 296.0 196.3 C296.3 196.3 296.7 196.3 297.0 196.3 C297.3 196.2 297.7 196.2 298.0 196.2 C298.3 196.2 298.7 196.2 299.0 196.2 C299.3 196.1 299.7 196.1 300.0 196.1 C300.3 196.1 300.7 196.1 301.0 196.0 C301.3 196.0 301.7 196.0 302.0 196.0 C302.3 196.0 302.7 195.9 303.0 195.9 C303.3 195.9 303.7 195.9 304.0 195.9 C304.3 195.9 304.7 195.8 305.0 195.8 C305.3 195.8 305.7 195.8 306.0 195.8 C306.3 195.7 306.7 195.7 307.0 195.7 C307.3 195.7 307.7 195.7 308.0 195.7 C308.3 195.6 308.7 195.6 309.0 195.6 C309.3 195.6 309.7 195.6 310.0 195.5 C310.3 195.5 310.7 195.5 311.0 195.5 C311.3 195.5 311.7 195.5 312.0 195.4 C312.3 195.4 312.7 195.4 313.0 195.4 C313.3 195.4 313.7 195.3 314.0 195.3 C314.3 195.3 314.7 195.3 315.0 195.3 C315.3 195.3 315.7 195.2 316.0 195.2 C316.3 195.2 316.7 195.2 317.0 195.2 C317.3 195.1 317.7 195.1 318.0 195.0 C318.3 195.0 318.7 194.9 319.0 194.8 C319.3 194.7 319.7 194.6 320.0 194.5 C320.3 194.4 320.7 194.3 321.0 194.1 C321.3 194.0 321.7 193.9 322.0 193.8 C322.3 193.6 322.7 193.5 323.0 193.4 C323.3 193.2 323.7 193.1 324.0 192.9 C324.3 192.8 324.7 192.6 325.0 192.5 C325.3 192.3 325.7 192.1 326.0 192.0 C326.3 191.8 326.7 191.6 327.0 191.4 C327.3 191.3 327.7 191.1 328.0 190.9 C328.3 190.7 328.7 190.5 329.0 190.4 C329.3 190.2 329.7 190.0 330.0 189.8 C330.3 189.6 330.7 189.5 331.0 189.3 C331.3 189.1 331.7 189.0 332.0 188.8 C332.3 188.7 332.7 188.5 333.0 188.4 C333.3 188.3 333.7 188.2 334.0 188.1 C334.3 188.0 334.7 188.0 335.0 188.0 C335.3 187.9 335.7 188.0 336.0 188.0 C336.3 188.1 336.7 188.1 337.0 188.3 C337.3 188.5 337.7 188.7 338.0 189.0 C338.3 189.3 338.7 189.7 339.0 190.1 C339.3 190.5 339.7 191.1 340.0 191.6 C340.3 192.1 340.7 192.7 341.0 193.2 C341.3 193.6 341.7 194.2 342.0 194.6 C342.3 195.0 342.7 195.3 343.0 195.6 C343.3 195.9 343.7 196.1 344.0 196.2 C344.3 196.4 344.7 196.4 345.0 196.5 C345.3 196.6 345.7 196.5 346.0 196.6 C346.3 196.6 346.7 196.6 347.0 196.6 C347.3 196.6 347.7 196.6 348.0 196.6 C348.3 196.6 348.7 196.6 349.0 196.6 C349.3 196.6 349.7 196.6 350.0 196.6 C350.3 196.6 350.7 196.6 351.0 196.6 C351.3 196.6 351.7 196.6 352.0 196.6 C352.3 196.6 352.7 196.6 353.0 196.6 C353.3 196.6 353.7 196.6 354.0 196.6 C354.3 196.6 354.7 196.6 355.0 196.6 C355.3 196.6 355.7 196.6 356.0 196.6 C356.3 196.6 356.7 196.6 357.0 196.6 C357.3 196.6 357.7 196.6 358.0 196.6 C358.3 196.6 358.7 196.6 359.0 196.6 C359.3 196.6 359.7 196.6 360.0 196.6 C360.3 196.6 360.7 196.6 361.0 196.6 C361.3 196.6 361.7 196.6 362.0 196.6 C362.3 196.6 362.7 196.6 363.0 196.6 C363.3 196.6 363.7 196.6 364.0 196.6 C364.3 196.6 364.7 196.6 365.0 196.6 C365.3 196.6 365.7 196.6 366.0 196.6 C366.3 196.6 366.7 196.6 367.0 196.6 C367.3 196.6 367.6 196.5 368.0 196.6 C368.4 196.6 368.7 196.5 369.2 196.7 C369.7 196.8 370.6 197.0 371.0 197.4 C371.5 197.8 371.7 198.9 371.8 199.3 L371.8 199.3 C371.7 199.6 371.5 200.7 371.0 201.1 C370.6 201.6 369.7 201.7 369.2 201.9 C368.7 202.0 368.4 201.9 368.0 202.0 C367.6 202.0 367.3 202.0 367.0 202.0 C366.7 202.0 366.3 202.0 366.0 202.0 C365.7 202.0 365.3 202.0 365.0 202.0 C364.7 202.0 364.3 202.0 364.0 202.0 C363.7 202.0 363.3 202.0 363.0 202.0 C362.7 202.0 362.3 202.0 362.0 202.0 C361.7 202.0 361.3 202.0 361.0 202.0 C360.7 202.0 360.3 202.0 360.0 202.0 C359.7 202.0 359.3 202.0 359.0 202.0 C358.7 202.0 358.3 202.0 358.0 202.0 C357.7 202.0 357.3 202.0 357.0 202.0 C356.7 202.0 356.3 202.0 356.0 202.0 C355.7 202.0 355.3 202.0 355.0 202.0 C354.7 202.0 354.3 202.0 354.0 202.0 C353.7 202.0 353.3 202.0 353.0 202.0 C352.7 202.0 352.3 202.0 352.0 202.0 C351.7 202.0 351.3 202.0 351.0 202.0 C350.7 202.0 350.3 202.0 350.0 202.0 C349.7 202.0 349.3 202.0 349.0 202.0 C348.7 202.0 348.3 202.0 348.0 202.0 C347.7 202.0 347.3 202.0 347.0 202.0 C346.7 202.0 346.3 201.9 346.0 202.0 C345.7 202.0 345.3 202.0 345.0 202.0 C344.7 202.1 344.3 202.2 344.0 202.3 C343.7 202.5 343.3 202.6 343.0 202.9 C342.7 203.2 342.3 203.5 342.0 204.0 C341.7 204.4 341.3 204.9 341.0 205.4 C340.7 205.9 340.3 206.4 340.0 206.9 C339.7 207.5 339.3 208.0 339.0 208.4 C338.7 208.8 338.3 209.2 338.0 209.5 C337.7 209.8 337.3 210.0 337.0 210.2 C336.7 210.4 336.3 210.4 336.0 210.5 C335.7 210.6 335.3 210.6 335.0 210.6 C334.7 210.5 334.3 210.5 334.0 210.4 C333.7 210.4 333.3 210.2 333.0 210.1 C332.7 210.0 332.3 209.8 332.0 209.7 C331.7 209.5 331.3 209.4 331.0 209.2 C330.7 209.0 330.3 208.9 330.0 208.7 C329.7 208.5 329.3 208.3 329.0 208.1 C328.7 208.0 328.3 207.8 328.0 207.6 C327.7 207.4 327.3 207.2 327.0 207.1 C326.7 206.9 326.3 206.7 326.0 206.5 C325.7 206.4 325.3 206.2 325.0 206.0 C324.7 205.9 324.3 205.7 324.0 205.6 C323.7 205.4 323.3 205.3 323.0 205.1 C322.7 205.0 322.3 204.9 322.0 204.7 C321.7 204.6 321.3 204.5 321.0 204.4 C320.7 204.3 320.3 204.1 320.0 204.0 C319.7 203.9 319.3 203.8 319.0 203.7 C318.7 203.6 318.3 203.5 318.0 203.5 C317.7 203.4 317.3 203.4 317.0 203.4 C316.7 203.3 316.3 203.3 316.0 203.3 C315.7 203.3 315.3 203.3 315.0 203.2 C314.7 203.2 314.3 203.2 314.0 203.2 C313.7 203.2 313.3 203.1 313.0 203.1 C312.7 203.1 312.3 203.1 312.0 203.1 C311.7 203.1 311.3 203.0 311.0 203.0 C310.7 203.0 310.3 203.0 310.0 203.0 C309.7 202.9 309.3 202.9 309.0 202.9 C308.7 202.9 308.3 202.9 308.0 202.9 C307.7 202.8 307.3 202.8 307.0 202.8 C306.7 202.8 306.3 202.8 306.0 202.7 C305.7 202.7 305.3 202.7 305.0 202.7 C304.7 202.7 304.3 202.7 304.0 202.6 C303.7 202.6 303.3 202.6 303.0 202.6 C302.7 202.6 302.3 202.5 302.0 202.5 C301.7 202.5 301.3 202.5 301.0 202.5 C300.7 202.5 300.3 202.4 300.0 202.4 C299.7 202.4 299.3 202.4 299.0 202.4 C298.7 202.3 298.3 202.3 298.0 202.3 C297.7 202.3 297.3 202.3 297.0 202.3 C296.7 202.2 296.3 202.2 296.0 202.2 C295.7 202.2 295.3 202.2 295.0 202.1 C294.7 202.1 294.3 202.1 294.0 202.1 C293.7 202.1 293.3 202.0 293.0 202.0 C292.7 202.0 292.3 202.0 292.0 202.0 C291.7 202.0 291.3 201.9 291.0 201.9 C290.7 201.9 290.3 201.9 290.0 201.9 C289.7 201.9 289.2 201.9 289.0 201.9 C288.8 201.9 289.0 202.0 288.6 201.9 C288.2 201.7 287.2 201.6 286.8 201.1 C286.3 200.7 286.1 199.6 286.0 199.3 Z" fill="#57106E" stroke="#57106E" stroke-width="0.8" stroke-linejoin="round"/>
<g fill="#57106E"><circle cx="301.3" cy="197.7" r="1.9"/><circle cx="300.7" cy="200.9" r="1.9"/><circle cx="303.6" cy="197.0" r="1.9"/><circle cx="303.7" cy="201.2" r="1.9"/><circle cx="306.3" cy="196.7" r="1.9"/><circle cx="306.6" cy="201.3" r="1.9"/><circle cx="309.8" cy="196.8" r="1.9"/><circle cx="309.1" cy="201.7" r="1.9"/><circle cx="312.5" cy="197.0" r="1.9"/><circle cx="312.3" cy="201.6" r="1.9"/><circle cx="315.0" cy="196.9" r="1.9"/><circle cx="315.5" cy="201.5" r="1.9"/><circle cx="318.4" cy="196.6" r="1.9"/><circle cx="318.0" cy="201.9" r="1.9"/><circle cx="321.2" cy="195.2" r="1.9"/><circle cx="322.0" cy="203.0" r="1.9"/><circle cx="325.0" cy="193.9" r="1.9"/><circle cx="324.5" cy="204.1" r="1.9"/><circle cx="327.6" cy="192.3" r="1.9"/><circle cx="327.5" cy="206.0" r="1.9"/><circle cx="331.3" cy="190.8" r="1.9"/><circle cx="330.9" cy="207.9" r="1.9"/><circle cx="334.2" cy="189.0" r="1.9"/><circle cx="334.7" cy="209.0" r="1.9"/><circle cx="337.6" cy="190.6" r="1.9"/><circle cx="338.0" cy="208.2" r="1.9"/><circle cx="340.9" cy="194.0" r="1.9"/><circle cx="341.1" cy="203.8" r="1.9"/></g>
<circle cx="317.0" cy="200.3" r="1.8" fill="#6A176E"/>
<path d="M302.1 222.6 C302.2 222.3 302.4 221.2 302.9 220.8 C303.3 220.4 304.2 220.3 304.6 220.1 C305.0 219.9 304.1 219.8 305.0 219.6 C305.9 219.4 308.3 219.3 309.8 219.0 C311.3 218.7 312.6 218.2 314.0 217.8 C315.4 217.4 316.7 217.0 318.0 216.6 C319.3 216.2 320.8 215.9 322.0 215.6 C323.2 215.3 324.2 215.4 325.0 215.0 C325.8 214.6 326.3 214.0 327.0 213.4 C327.7 212.8 328.6 211.6 329.3 211.6 C330.1 211.6 330.9 213.0 331.5 213.6 C332.1 214.2 332.3 215.0 333.0 215.4 C333.7 215.8 334.6 215.8 335.8 216.0 C337.0 216.2 338.4 216.5 340.0 216.8 C341.6 217.1 343.6 217.3 345.3 217.6 C347.0 217.9 348.4 218.3 350.0 218.6 C351.6 218.9 353.4 219.2 354.7 219.4 C356.0 219.6 357.2 219.8 358.0 219.9 C358.8 220.0 358.8 220.0 359.3 220.1 C359.8 220.3 360.6 220.4 361.1 220.8 C361.5 221.2 361.7 222.3 361.8 222.6 L361.8 222.6 C361.7 222.9 361.5 224.0 361.1 224.4 C360.6 224.8 359.8 225.0 359.3 225.1 C358.8 225.3 358.8 225.2 358.0 225.3 C357.2 225.4 356.0 225.6 354.7 225.8 C353.4 226.0 351.6 226.3 350.0 226.6 C348.4 226.9 347.0 227.3 345.3 227.6 C343.6 227.9 341.6 228.1 340.0 228.4 C338.4 228.7 337.0 229.0 335.8 229.2 C334.6 229.4 333.7 229.4 333.0 229.8 C332.3 230.2 332.1 231.0 331.5 231.6 C330.9 232.2 330.1 233.6 329.3 233.6 C328.6 233.6 327.7 232.4 327.0 231.8 C326.3 231.2 325.8 230.6 325.0 230.2 C324.2 229.8 323.2 229.9 322.0 229.6 C320.8 229.3 319.3 229.0 318.0 228.6 C316.7 228.2 315.4 227.8 314.0 227.4 C312.6 227.0 311.3 226.5 309.8 226.2 C308.3 225.9 305.9 225.8 305.0 225.6 C304.1 225.4 305.0 225.3 304.6 225.1 C304.2 224.9 303.3 224.8 302.9 224.4 C302.4 224.0 302.2 222.9 302.1 222.6 Z" fill="url(#g9)" stroke="url(#g9)" stroke-width="0.8" stroke-linejoin="round"/>
<g fill="url(#g9)"><circle cx="308.0" cy="220.5" r="1.9"/><circle cx="308.0" cy="224.5" r="1.9"/><circle cx="310.5" cy="220.2" r="1.9"/><circle cx="310.6" cy="225.2" r="1.9"/><circle cx="312.8" cy="219.8" r="1.9"/><circle cx="313.4" cy="225.4" r="1.9"/><circle cx="316.0" cy="218.6" r="1.9"/><circle cx="315.3" cy="226.7" r="1.9"/><circle cx="319.1" cy="218.1" r="1.9"/><circle cx="319.3" cy="227.4" r="1.9"/><circle cx="322.8" cy="216.7" r="1.9"/><circle cx="322.6" cy="228.0" r="1.9"/><circle cx="325.2" cy="216.7" r="1.9"/><circle cx="325.7" cy="228.8" r="1.9"/><circle cx="327.9" cy="214.2" r="1.9"/><circle cx="328.4" cy="231.3" r="1.9"/><circle cx="331.1" cy="215.1" r="1.9"/><circle cx="331.0" cy="230.8" r="1.9"/><circle cx="334.9" cy="217.3" r="1.9"/><circle cx="334.3" cy="227.7" r="1.9"/><circle cx="337.6" cy="217.8" r="1.9"/><circle cx="337.7" cy="227.5" r="1.9"/><circle cx="341.0" cy="218.6" r="1.9"/><circle cx="341.1" cy="227.0" r="1.9"/><circle cx="343.1" cy="218.7" r="1.9"/><circle cx="343.2" cy="226.6" r="1.9"/><circle cx="346.0" cy="219.0" r="1.9"/><circle cx="346.0" cy="226.2" r="1.9"/><circle cx="349.7" cy="220.0" r="1.9"/><circle cx="350.1" cy="225.2" r="1.9"/><circle cx="352.7" cy="220.6" r="1.9"/><circle cx="353.3" cy="224.3" r="1.9"/></g>
<g clip-path="url(#c10)"><circle cx="312.9" cy="226.4" r="2.1" fill="#C33B4F"/><circle cx="346.1" cy="219.4" r="2.1" fill="#7C1D6D"/><circle cx="342.3" cy="224.5" r="2.1" fill="#6F196E"/><circle cx="350.0" cy="222.9" r="2.1" fill="#7C1D6D"/><circle cx="310.8" cy="225.9" r="2.1" fill="#C83F4B"/><circle cx="332.9" cy="222.1" r="2.1" fill="#AB2F5E"/><circle cx="348.9" cy="226.4" r="2.1" fill="#6F196E"/><circle cx="315.5" cy="226.1" r="2.1" fill="#C33B4F"/><circle cx="356.2" cy="223.7" r="2.1" fill="#7C1D6D"/><circle cx="353.9" cy="225.4" r="2.1" fill="#7C1D6D"/><circle cx="304.6" cy="224.6" r="2.1" fill="#D04545"/><circle cx="347.4" cy="226.0" r="2.1" fill="#6F196E"/><circle cx="344.3" cy="224.9" r="2.1" fill="#6F196E"/><circle cx="356.5" cy="221.6" r="2.1" fill="#7C1D6D"/><circle cx="311.2" cy="225.0" r="2.1" fill="#C83F4B"/><circle cx="325.5" cy="215.2" r="2.1" fill="#A02A63"/><circle cx="311.4" cy="220.9" r="2.1" fill="#C33B4F"/><circle cx="334.7" cy="217.1" r="2.1" fill="#A02A63"/><circle cx="311.0" cy="220.1" r="2.1" fill="#D04545"/><circle cx="342.6" cy="218.4" r="2.1" fill="#6F196E"/><circle cx="309.4" cy="225.6" r="2.1" fill="#C33B4F"/><circle cx="358.2" cy="222.8" r="2.1" fill="#6F196E"/><circle cx="331.3" cy="213.8" r="2.1" fill="#A02A63"/><circle cx="355.2" cy="225.2" r="2.1" fill="#7C1D6D"/><circle cx="331.0" cy="229.5" r="2.1" fill="#B73557"/><circle cx="314.1" cy="222.3" r="2.1" fill="#C83F4B"/><circle cx="336.7" cy="220.0" r="2.1" fill="#B73557"/><circle cx="359.9" cy="221.8" r="2.1" fill="#7C1D6D"/><circle cx="341.3" cy="217.6" r="2.1" fill="#6F196E"/><circle cx="323.0" cy="222.3" r="2.1" fill="#C33B4F"/><circle cx="346.4" cy="219.6" r="2.1" fill="#6F196E"/><circle cx="350.4" cy="224.4" r="2.1" fill="#6F196E"/><circle cx="307.8" cy="223.0" r="2.1" fill="#C83F4B"/><circle cx="337.7" cy="222.1" r="2.1" fill="#B73557"/><circle cx="304.5" cy="223.1" r="2.1" fill="#D04545"/><circle cx="340.7" cy="218.4" r="2.1" fill="#932667"/><circle cx="352.1" cy="219.5" r="2.1" fill="#932667"/><circle cx="341.7" cy="218.9" r="2.1" fill="#7C1D6D"/><circle cx="341.7" cy="218.1" r="2.1" fill="#7C1D6D"/><circle cx="352.4" cy="225.3" r="2.1" fill="#6F196E"/><circle cx="320.2" cy="219.5" r="2.1" fill="#B73557"/><circle cx="354.6" cy="220.1" r="2.1" fill="#6F196E"/><circle cx="318.2" cy="223.1" r="2.1" fill="#D04545"/><circle cx="330.0" cy="215.7" r="2.1" fill="#B73557"/><circle cx="332.4" cy="220.5" r="2.1" fill="#AB2F5E"/><circle cx="319.0" cy="223.3" r="2.1" fill="#C83F4B"/><circle cx="356.3" cy="224.0" r="2.1" fill="#932667"/><circle cx="332.1" cy="229.1" r="2.1" fill="#B73557"/><circle cx="308.4" cy="219.6" r="2.1" fill="#C33B4F"/><circle cx="336.2" cy="225.1" r="2.1" fill="#AB2F5E"/><circle cx="307.3" cy="220.5" r="2.1" fill="#D04545"/><circle cx="361.7" cy="222.2" r="2.1" fill="#932667"/><circle cx="333.0" cy="219.6" r="2.1" fill="#B73557"/><circle cx="307.1" cy="223.1" r="2.1" fill="#C83F4B"/><circle cx="316.6" cy="225.7" r="2.1" fill="#C33B4F"/><circle cx="344.5" cy="218.1" r="2.1" fill="#7C1D6D"/><circle cx="306.5" cy="221.6" r="2.1" fill="#C83F4B"/><circle cx="304.6" cy="223.3" r="2.1" fill="#C33B4F"/><circle cx="312.5" cy="220.9" r="2.1" fill="#C83F4B"/><circle cx="350.5" cy="222.3" r="2.1" fill="#7C1D6D"/></g>
<circle cx="322.5" cy="220.1" r="1.6" fill="#E05536"/>
<circle cx="326.0" cy="222.1" r="1.5" fill="#8C8C8C"/>
<path d="M322.8 245.5 C322.8 245.4 322.9 245.0 323.0 244.9 C323.2 244.8 323.4 245.2 323.6 244.7 C323.8 244.2 323.7 243.3 324.0 242.0 C324.3 240.7 324.9 238.1 325.3 237.0 C325.7 235.8 326.0 235.6 326.5 235.2 C327.0 234.8 328.1 233.4 328.5 234.6 C328.9 235.8 328.7 241.0 329.2 242.5 C329.7 243.9 330.8 242.8 331.3 243.3 C331.8 243.8 332.1 245.1 332.2 245.5 L332.2 245.5 C332.1 245.8 331.8 247.1 331.3 247.6 C330.8 248.1 329.7 247.0 329.2 248.5 C328.7 249.9 328.9 255.2 328.5 256.4 C328.1 257.6 327.0 256.2 326.5 255.8 C326.0 255.4 325.7 255.1 325.3 254.0 C324.9 252.8 324.3 250.3 324.0 249.0 C323.7 247.7 323.8 246.8 323.6 246.3 C323.4 245.8 323.2 246.2 323.0 246.0 C322.9 245.9 322.8 245.6 322.8 245.5 Z" fill="#57106E" stroke="#57106E" stroke-width="0.8" stroke-linejoin="round"/>
<g fill="#57106E"><circle cx="324.8" cy="238.0" r="1.9"/><circle cx="325.2" cy="252.5" r="1.9"/><circle cx="327.7" cy="235.9" r="1.9"/><circle cx="328.2" cy="254.5" r="1.9"/></g>
<circle cx="334.4" cy="245.5" r="2.2" fill="#8C8C8C"/>
<path d="M363.8 245.7 C363.9 245.4 364.1 244.3 364.5 243.9 C364.9 243.5 365.3 243.4 366.2 243.3 C367.1 243.1 364.4 243.2 370.0 243.2 C375.6 243.1 390.0 243.1 400.0 243.1 C410.0 243.1 422.2 243.1 430.0 243.2 C437.8 243.2 443.6 243.2 446.7 243.4 C449.8 243.5 447.9 243.6 448.3 244.0 C448.7 244.4 448.9 245.4 449.0 245.7 L449.0 245.7 C448.9 245.9 448.7 246.9 448.3 247.3 C447.9 247.7 449.8 247.8 446.7 248.0 C443.6 248.1 437.8 248.1 430.0 248.2 C422.2 248.2 410.0 248.3 400.0 248.3 C390.0 248.3 375.6 248.2 370.0 248.2 C364.4 248.1 367.1 248.2 366.2 248.1 C365.3 247.9 364.9 247.8 364.5 247.4 C364.1 247.0 363.9 246.0 363.8 245.7 Z" fill="#FBBE23" stroke="#FBBE23" stroke-width="0.8" stroke-linejoin="round"/>
<circle cx="455.8" cy="245.7" r="2.2" fill="#FBBE23"/>
<circle cx="462.2" cy="245.7" r="2.2" fill="#FBBE23"/>
<circle cx="465.4" cy="245.7" r="2.2" fill="#FBBE23"/>
<path d="M320.1 268.3 C320.2 268.1 320.3 267.5 320.6 267.2 C320.8 267.0 321.1 267.5 321.6 266.8 C322.1 266.2 323.0 264.5 323.5 263.3 C324.0 262.2 324.1 260.7 324.5 259.8 C324.9 259.0 325.3 258.7 326.0 258.3 C326.7 258.0 327.9 256.7 328.5 257.7 C329.1 258.7 328.7 263.0 329.3 264.3 C329.9 265.6 331.4 264.8 332.1 265.4 C332.8 266.1 333.1 267.8 333.3 268.3 L333.3 268.3 C333.1 268.8 332.8 270.5 332.1 271.2 C331.4 271.9 329.9 271.0 329.3 272.3 C328.7 273.6 329.1 277.9 328.5 278.9 C327.9 279.9 326.7 278.7 326.0 278.3 C325.3 278.0 324.9 277.7 324.5 276.8 C324.1 276.0 324.0 274.5 323.5 273.3 C323.0 272.2 322.1 270.5 321.6 269.8 C321.1 269.2 320.8 269.7 320.6 269.4 C320.3 269.2 320.2 268.5 320.1 268.3 Z" fill="#57106E" stroke="#57106E" stroke-width="0.8" stroke-linejoin="round"/>
<g fill="#57106E"><circle cx="323.0" cy="265.1" r="1.9"/><circle cx="322.8" cy="271.5" r="1.9"/><circle cx="326.1" cy="259.8" r="1.9"/><circle cx="326.3" cy="277.2" r="1.9"/><circle cx="329.3" cy="259.0" r="1.9"/><circle cx="329.5" cy="277.7" r="1.9"/></g>
<path d="M334.0 268.7 C334.1 268.4 334.4 267.1 334.9 266.6 C335.4 266.1 336.1 265.9 337.0 265.7 C337.9 265.6 338.5 265.7 340.0 265.7 C341.5 265.8 344.0 265.8 346.0 265.9 C348.0 266.0 350.0 266.1 352.0 266.2 C354.0 266.3 356.3 266.4 358.0 266.5 C359.7 266.6 361.0 266.7 362.0 266.7 C363.0 266.7 363.6 266.5 364.2 266.5 C364.8 266.6 365.4 266.8 365.7 267.1 C366.1 267.5 366.3 268.5 366.4 268.7 L366.4 268.7 C366.3 269.0 366.1 269.9 365.7 270.3 C365.4 270.7 364.8 270.9 364.2 270.9 C363.6 271.0 363.0 270.7 362.0 270.7 C361.0 270.7 359.7 270.8 358.0 270.9 C356.3 271.0 354.0 271.1 352.0 271.2 C350.0 271.3 348.0 271.4 346.0 271.5 C344.0 271.6 341.5 271.7 340.0 271.7 C338.5 271.8 337.9 271.9 337.0 271.7 C336.1 271.6 335.4 271.4 334.9 270.9 C334.4 270.4 334.1 269.1 334.0 268.7 Z" fill="#FBBE23" stroke="#FBBE23" stroke-width="0.8" stroke-linejoin="round"/>
<path d="M313.5 291.4 C313.6 291.1 313.8 289.9 314.3 289.5 C314.7 289.1 315.7 288.9 316.1 288.8 C316.5 288.7 316.3 288.8 316.5 288.8 C316.7 288.8 317.2 288.8 317.5 288.8 C317.8 288.8 318.2 288.8 318.5 288.8 C318.8 288.8 319.2 288.7 319.5 288.7 C319.8 288.6 320.2 288.6 320.5 288.4 C320.8 288.3 321.2 288.1 321.5 287.8 C321.8 287.6 322.2 287.2 322.5 286.7 C322.8 286.3 323.2 285.7 323.5 285.1 C323.8 284.6 324.2 283.9 324.5 283.4 C324.8 282.8 325.2 282.3 325.5 281.8 C325.8 281.4 326.2 281.1 326.5 280.8 C326.8 280.6 327.2 280.4 327.5 280.3 C327.8 280.2 328.2 280.2 328.5 280.2 C328.8 280.2 329.2 280.2 329.5 280.2 C329.8 280.3 330.2 280.4 330.5 280.5 C330.8 280.7 331.2 280.9 331.5 281.1 C331.8 281.3 332.2 281.6 332.5 281.9 C332.8 282.1 333.2 282.5 333.5 282.8 C333.8 283.1 334.2 283.4 334.5 283.7 C334.8 284.0 335.2 284.4 335.5 284.7 C335.8 285.0 336.2 285.3 336.5 285.5 C336.8 285.8 337.2 286.1 337.5 286.3 C337.8 286.6 338.2 286.8 338.5 287.0 C338.8 287.2 339.2 287.3 339.5 287.5 C339.8 287.6 340.3 287.7 340.5 287.9 C340.7 288.1 340.5 288.5 340.9 288.8 C341.3 289.1 342.3 289.1 342.7 289.5 C343.2 289.9 343.4 291.1 343.5 291.4 L343.5 291.4 C343.4 291.7 343.2 292.8 342.7 293.3 C342.3 293.7 341.3 293.7 340.9 294.0 C340.5 294.3 340.7 294.7 340.5 294.9 C340.3 295.1 339.8 295.1 339.5 295.3 C339.2 295.4 338.8 295.6 338.5 295.8 C338.2 296.0 337.8 296.2 337.5 296.5 C337.2 296.7 336.8 297.0 336.5 297.2 C336.2 297.5 335.8 297.8 335.5 298.1 C335.2 298.4 334.8 298.7 334.5 299.1 C334.2 299.4 333.8 299.7 333.5 300.0 C333.2 300.3 332.8 300.6 332.5 300.9 C332.2 301.2 331.8 301.4 331.5 301.7 C331.2 301.9 330.8 302.1 330.5 302.2 C330.2 302.4 329.8 302.5 329.5 302.5 C329.2 302.6 328.8 302.6 328.5 302.6 C328.2 302.6 327.8 302.6 327.5 302.5 C327.2 302.4 326.8 302.2 326.5 302.0 C326.2 301.7 325.8 301.4 325.5 300.9 C325.2 300.5 324.8 299.9 324.5 299.4 C324.2 298.8 323.8 298.2 323.5 297.6 C323.2 297.1 322.8 296.5 322.5 296.0 C322.2 295.6 321.8 295.2 321.5 294.9 C321.2 294.6 320.8 294.5 320.5 294.3 C320.2 294.2 319.8 294.1 319.5 294.1 C319.2 294.0 318.8 294.0 318.5 294.0 C318.2 294.0 317.8 294.0 317.5 294.0 C317.2 294.0 316.7 294.0 316.5 294.0 C316.3 294.0 316.5 294.1 316.1 294.0 C315.7 293.9 314.7 293.7 314.3 293.3 C313.8 292.8 313.6 291.7 313.5 291.4 Z" fill="url(#g11)" stroke="url(#g11)" stroke-width="0.8" stroke-linejoin="round"/>
<g fill="url(#g11)"><circle cx="323.0" cy="287.7" r="1.9"/><circle cx="323.1" cy="295.3" r="1.9"/><circle cx="326.5" cy="282.4" r="1.9"/><circle cx="326.0" cy="299.8" r="1.9"/><circle cx="329.7" cy="281.8" r="1.9"/><circle cx="329.4" cy="301.4" r="1.9"/><circle cx="332.2" cy="283.5" r="1.9"/><circle cx="332.2" cy="299.0" r="1.9"/><circle cx="336.1" cy="286.5" r="1.9"/><circle cx="336.1" cy="296.0" r="1.9"/><circle cx="338.8" cy="288.3" r="1.9"/><circle cx="339.1" cy="294.0" r="1.9"/></g>
<path d="M343.0 291.4 C343.1 291.1 343.3 290.1 343.7 289.7 C344.1 289.3 344.7 289.1 345.4 289.0 C346.1 288.9 347.2 288.9 348.0 288.9 C348.8 288.9 349.5 288.9 350.1 289.0 C350.7 289.1 351.4 289.3 351.8 289.7 C352.2 290.1 352.4 291.1 352.5 291.4 L352.5 291.4 C352.4 291.7 352.2 292.7 351.8 293.1 C351.4 293.5 350.7 293.7 350.1 293.8 C349.5 293.9 348.8 293.9 348.0 293.9 C347.2 293.9 346.1 293.9 345.4 293.8 C344.7 293.7 344.1 293.5 343.7 293.1 C343.3 292.7 343.1 291.7 343.0 291.4 Z" fill="#D74B3F" stroke="#D74B3F" stroke-width="0.8" stroke-linejoin="round"/>
<circle cx="343.5" cy="291.4" r="1.8" fill="#8C8C8C"/>
<circle cx="302.1" cy="314.0" r="2.3" fill="#6A176E"/>
<path d="M308.9 314.0 C309.0 313.7 309.2 312.7 309.6 312.2 C310.1 311.8 310.5 311.7 311.4 311.5 C312.3 311.4 313.6 311.4 315.0 311.3 C316.4 311.3 318.6 311.3 320.0 311.2 C321.4 311.1 322.8 311.6 323.5 310.7 C324.2 309.9 324.1 307.2 324.5 306.0 C324.9 304.9 325.3 304.5 326.0 304.0 C326.7 303.6 327.7 303.4 328.5 303.4 C329.3 303.4 330.3 303.6 331.0 304.0 C331.7 304.5 332.1 305.2 332.5 306.0 C332.9 306.9 332.6 308.7 333.5 309.2 C334.4 309.8 336.4 309.3 338.0 309.4 C339.6 309.6 341.5 309.7 343.0 309.9 C344.5 310.2 345.7 310.8 347.0 311.0 C348.3 311.3 350.2 311.3 351.0 311.3 C351.8 311.4 351.5 311.4 352.0 311.5 C352.5 311.7 353.3 311.8 353.8 312.2 C354.2 312.7 354.4 313.7 354.5 314.0 L354.5 314.0 C354.4 314.3 354.2 315.4 353.8 315.8 C353.3 316.3 352.5 316.4 352.0 316.5 C351.5 316.7 351.8 316.7 351.0 316.7 C350.2 316.8 348.3 316.8 347.0 317.0 C345.7 317.3 344.5 317.9 343.0 318.1 C341.5 318.4 339.6 318.5 338.0 318.6 C336.4 318.8 334.4 318.3 333.5 318.8 C332.6 319.4 332.9 321.2 332.5 322.0 C332.1 322.9 331.7 323.6 331.0 324.0 C330.3 324.5 329.3 324.6 328.5 324.6 C327.7 324.6 326.7 324.5 326.0 324.0 C325.3 323.6 324.9 323.2 324.5 322.0 C324.1 320.9 324.2 318.2 323.5 317.3 C322.8 316.5 321.4 316.9 320.0 316.8 C318.6 316.7 316.4 316.8 315.0 316.7 C313.6 316.7 312.3 316.7 311.4 316.5 C310.5 316.4 310.1 316.3 309.6 315.8 C309.2 315.4 309.0 314.3 308.9 314.0 Z" fill="url(#g12)" stroke="url(#g12)" stroke-width="0.8" stroke-linejoin="round"/>
<g fill="url(#g12)"><circle cx="324.0" cy="311.0" r="1.9"/><circle cx="324.2" cy="317.2" r="1.9"/><circle cx="327.2" cy="305.4" r="1.9"/><circle cx="326.4" cy="323.1" r="1.9"/><circle cx="330.3" cy="305.3" r="1.9"/><circle cx="329.9" cy="323.3" r="1.9"/><circle cx="333.5" cy="309.4" r="1.9"/><circle cx="333.3" cy="318.7" r="1.9"/><circle cx="335.6" cy="311.0" r="1.9"/><circle cx="336.6" cy="317.3" r="1.9"/><circle cx="339.3" cy="311.1" r="1.9"/><circle cx="339.2" cy="317.1" r="1.9"/><circle cx="343.0" cy="311.4" r="1.9"/><circle cx="343.4" cy="317.1" r="1.9"/></g>
<g clip-path="url(#c13)"><circle cx="337.7" cy="312.9" r="2.0" fill="#CC4248"/><circle cx="345.8" cy="311.1" r="2.0" fill="#87216B"/><circle cx="349.4" cy="311.9" r="2.0" fill="#87216B"/><circle cx="349.5" cy="315.3" r="2.0" fill="#87216B"/><circle cx="349.5" cy="312.0" r="2.0" fill="#CC4248"/><circle cx="350.8" cy="314.1" r="2.0" fill="#87216B"/><circle cx="353.7" cy="314.7" r="2.0" fill="#C33B4F"/><circle cx="338.5" cy="316.8" r="2.0" fill="#87216B"/><circle cx="350.3" cy="314.5" r="2.0" fill="#87216B"/><circle cx="344.3" cy="313.0" r="2.0" fill="#C33B4F"/><circle cx="351.2" cy="313.5" r="2.0" fill="#E05536"/><circle cx="345.1" cy="313.8" r="2.0" fill="#A02A63"/><circle cx="338.0" cy="316.6" r="2.0" fill="#E05536"/><circle cx="347.6" cy="313.5" r="2.0" fill="#A02A63"/><circle cx="350.7" cy="314.2" r="2.0" fill="#E05536"/><circle cx="347.7" cy="311.8" r="2.0" fill="#87216B"/><circle cx="344.1" cy="310.6" r="2.0" fill="#CC4248"/><circle cx="349.3" cy="316.2" r="2.0" fill="#A02A63"/><circle cx="343.3" cy="315.5" r="2.0" fill="#87216B"/><circle cx="346.9" cy="315.3" r="2.0" fill="#E05536"/><circle cx="341.9" cy="316.1" r="2.0" fill="#A02A63"/><circle cx="344.2" cy="313.2" r="2.0" fill="#E05536"/><circle cx="341.4" cy="311.0" r="2.0" fill="#CC4248"/><circle cx="340.0" cy="317.8" r="2.0" fill="#A02A63"/><circle cx="339.4" cy="314.7" r="2.0" fill="#87216B"/></g>
<circle cx="343.5" cy="314.0" r="2.1" fill="#E9612B"/>
<circle cx="350.5" cy="314.0" r="2.1" fill="#62146E"/>
<path d="M321.7 336.9 C321.8 336.7 321.9 335.9 322.2 335.6 C322.5 335.3 323.0 336.2 323.5 335.1 C324.0 334.0 324.5 330.3 325.0 328.9 C325.5 327.4 325.9 327.0 326.5 326.4 C327.1 325.8 327.8 325.5 328.5 325.5 C329.2 325.5 330.3 325.8 331.0 326.4 C331.7 327.0 332.1 328.0 332.5 328.9 C332.9 329.8 332.8 331.3 333.5 331.9 C334.2 332.5 335.8 332.5 337.0 332.7 C338.2 332.9 339.7 333.1 341.0 333.3 C342.3 333.5 342.7 333.8 345.0 333.9 C347.3 334.0 352.2 333.9 355.0 334.0 C357.8 334.1 360.4 334.2 361.8 334.4 C363.2 334.6 363.1 334.7 363.6 335.1 C364.0 335.5 364.2 336.6 364.3 336.9 L364.3 336.9 C364.2 337.2 364.0 338.3 363.6 338.7 C363.1 339.1 363.2 339.2 361.8 339.4 C360.4 339.6 357.8 339.7 355.0 339.8 C352.2 339.9 347.3 339.8 345.0 339.9 C342.7 340.0 342.3 340.3 341.0 340.5 C339.7 340.7 338.2 340.9 337.0 341.1 C335.8 341.3 334.2 341.3 333.5 341.9 C332.8 342.5 332.9 344.0 332.5 344.9 C332.1 345.8 331.7 346.8 331.0 347.4 C330.3 348.0 329.2 348.3 328.5 348.3 C327.8 348.3 327.1 348.0 326.5 347.4 C325.9 346.8 325.5 346.3 325.0 344.9 C324.5 343.4 324.0 339.8 323.5 338.7 C323.0 337.6 322.5 338.5 322.2 338.2 C321.9 337.9 321.8 337.1 321.7 336.9 Z" fill="url(#g14)" stroke="url(#g14)" stroke-width="0.8" stroke-linejoin="round"/>
<g fill="url(#g14)"><circle cx="323.9" cy="332.2" r="1.9"/><circle cx="324.5" cy="341.5" r="1.9"/><circle cx="327.3" cy="327.5" r="1.9"/><circle cx="328.0" cy="346.3" r="1.9"/><circle cx="330.2" cy="327.9" r="1.9"/><circle cx="330.8" cy="346.6" r="1.9"/><circle cx="333.1" cy="332.8" r="1.9"/><circle cx="333.7" cy="340.8" r="1.9"/><circle cx="337.1" cy="333.8" r="1.9"/><circle cx="337.0" cy="339.7" r="1.9"/><circle cx="340.5" cy="334.7" r="1.9"/><circle cx="339.9" cy="339.3" r="1.9"/><circle cx="343.1" cy="335.5" r="1.9"/><circle cx="343.6" cy="338.4" r="1.9"/></g>
<circle cx="368.6" cy="336.9" r="2.2" fill="#A02A63"/>
<text transform="translate(176.0 20.65) scale(1 1.08)" text-anchor="end" class="yl">room.at.hospitalization.intensive care unit</text>
<line x1="178.6" x2="181.4" y1="16.90" y2="16.90" stroke="#555" stroke-width="1"/>
<text transform="translate(198.9 20.65) scale(1 1.08)" class="num">0.453</text>
<text transform="translate(176.0 43.51) scale(1 1.08)" text-anchor="end" class="yl">age</text>
<line x1="178.6" x2="181.4" y1="39.76" y2="39.76" stroke="#555" stroke-width="1"/>
<text transform="translate(198.9 43.51) scale(1 1.08)" class="num">0.354</text>
<text transform="translate(176.0 66.36) scale(1 1.08)" text-anchor="end" class="yl">dementia</text>
<line x1="178.6" x2="181.4" y1="62.61" y2="62.61" stroke="#555" stroke-width="1"/>
<text transform="translate(198.9 66.36) scale(1 1.08)" class="num">0.270</text>
<text transform="translate(176.0 89.22) scale(1 1.08)" text-anchor="end" class="yl">Sum of 35 other</text>
<line x1="178.6" x2="181.4" y1="85.47" y2="85.47" stroke="#555" stroke-width="1"/>
<text transform="translate(198.9 89.22) scale(1 1.08)" class="num">0.200</text>
<text transform="translate(176.0 112.08) scale(1 1.08)" text-anchor="end" class="yl">schedule.of.treatment.surgery</text>
<line x1="178.6" x2="181.4" y1="108.33" y2="108.33" stroke="#555" stroke-width="1"/>
<text transform="translate(198.9 112.08) scale(1 1.08)" class="num">0.159</text>
<text transform="translate(176.0 134.94) scale(1 1.08)" text-anchor="end" class="yl">vital.sign_Glasgow.Coma.Scale</text>
<line x1="178.6" x2="181.4" y1="131.19" y2="131.19" stroke="#555" stroke-width="1"/>
<text transform="translate(198.9 134.94) scale(1 1.08)" class="num">0.154</text>
<text transform="translate(176.0 157.79) scale(1 1.08)" text-anchor="end" class="yl">use.of.ambulance</text>
<line x1="178.6" x2="181.4" y1="154.04" y2="154.04" stroke="#555" stroke-width="1"/>
<text transform="translate(198.9 157.79) scale(1 1.08)" class="num">0.146</text>
<text transform="translate(176.0 180.65) scale(1 1.08)" text-anchor="end" class="yl">blood.test_ALB</text>
<line x1="178.6" x2="181.4" y1="176.90" y2="176.90" stroke="#555" stroke-width="1"/>
<text transform="translate(198.9 180.65) scale(1 1.08)" class="num">0.119</text>
<text transform="translate(176.0 203.51) scale(1 1.08)" text-anchor="end" class="yl">blood.test_LD</text>
<line x1="178.6" x2="181.4" y1="199.76" y2="199.76" stroke="#555" stroke-width="1"/>
<text transform="translate(198.9 203.51) scale(1 1.08)" class="num">0.105</text>
<text transform="translate(176.0 226.36) scale(1 1.08)" text-anchor="end" class="yl">BMI</text>
<line x1="178.6" x2="181.4" y1="222.61" y2="222.61" stroke="#555" stroke-width="1"/>
<text transform="translate(198.9 226.36) scale(1 1.08)" class="num">0.103</text>
<text transform="translate(176.0 249.22) scale(1 1.08)" text-anchor="end" class="yl">history.of.delirium</text>
<line x1="178.6" x2="181.4" y1="245.47" y2="245.47" stroke="#555" stroke-width="1"/>
<text transform="translate(198.9 249.22) scale(1 1.08)" class="num">0.077</text>
<text transform="translate(176.0 272.08) scale(1 1.08)" text-anchor="end" class="yl">brain.tissue.disorder</text>
<line x1="178.6" x2="181.4" y1="268.33" y2="268.33" stroke="#555" stroke-width="1"/>
<text transform="translate(198.9 272.08) scale(1 1.08)" class="num">0.064</text>
<text transform="translate(176.0 294.93) scale(1 1.08)" text-anchor="end" class="yl">blood.test_BUN</text>
<line x1="178.6" x2="181.4" y1="291.18" y2="291.18" stroke="#555" stroke-width="1"/>
<text transform="translate(198.9 294.93) scale(1 1.08)" class="num">0.047</text>
<text transform="translate(176.0 317.79) scale(1 1.08)" text-anchor="end" class="yl">blood.test_WBC</text>
<line x1="178.6" x2="181.4" y1="314.04" y2="314.04" stroke="#555" stroke-width="1"/>
<text transform="translate(198.9 317.79) scale(1 1.08)" class="num">0.046</text>
<text transform="translate(176.0 340.65) scale(1 1.08)" text-anchor="end" class="yl">blood.test_Cl</text>
<line x1="178.6" x2="181.4" y1="336.90" y2="336.90" stroke="#555" stroke-width="1"/>
<text transform="translate(198.9 340.65) scale(1 1.08)" class="num">0.044</text>
<line x1="184.80" x2="184.80" y1="350.1" y2="352.8" stroke="#555" stroke-width="1"/>
<text x="184.80" y="363.5" text-anchor="middle" class="xt">-2</text>
<line x1="258.10" x2="258.10" y1="350.1" y2="352.8" stroke="#555" stroke-width="1"/>
<text x="258.10" y="363.5" text-anchor="middle" class="xt">-1</text>
<line x1="331.40" x2="331.40" y1="350.1" y2="352.8" stroke="#555" stroke-width="1"/>
<text x="331.40" y="363.5" text-anchor="middle" class="xt">0</text>
<line x1="404.70" x2="404.70" y1="350.1" y2="352.8" stroke="#555" stroke-width="1"/>
<text x="404.70" y="363.5" text-anchor="middle" class="xt">1</text>
<text x="329.6" y="377.9" text-anchor="middle" style="font-size:11.8px;fill:#1A1A1A">SHAP value</text>
<line x1="406" y1="370.7" x2="463" y2="370.7" stroke="#000" stroke-width="1.5"/>
<path d="M461.5 367.6 L468.8 370.7 L461.5 373.8 Z" fill="#000"/>
<text x="383.5" y="388.4" style="font-size:14px;fill:#000">Risk of Delirium</text>
<rect x="514.5" y="114" width="6.2" height="125" fill="url(#leg)"/>
<text x="526" y="118.4" style="font-size:9.3px;fill:#1A1A1A">High</text>
<text x="526" y="243.4" style="font-size:9.3px;fill:#1A1A1A">Low</text>
<text transform="translate(510.8 176) rotate(-90) scale(1 1.17)" text-anchor="middle" style="font-size:13px;fill:#000">Feature value</text>
</svg>
</body></html>
